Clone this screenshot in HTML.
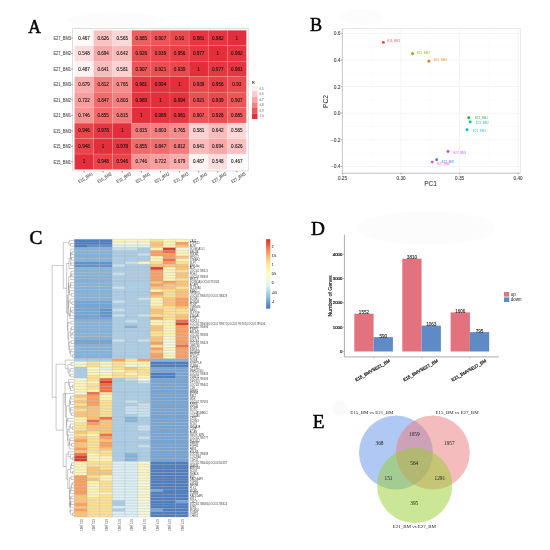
<!DOCTYPE html>
<html><head><meta charset="utf-8"><title>Figure</title>
<style>html,body{margin:0;padding:0;background:#fff;width:550px;height:550px;overflow:hidden}svg{display:block}</style>
</head><body>
<svg width="550" height="550" viewBox="0 0 550 550">
<rect width="550" height="550" fill="#fff"/>
<ellipse cx="115" cy="20" rx="49" ry="7.5" fill="#fcfcfc"/>
<rect x="72.7" y="28.6" width="175.5" height="142.4" fill="#fff" stroke="#c8c8c8" stroke-width="0.6"/>
<rect x="74.50" y="30.30" width="19.10" height="15.47" fill="#fef9f9" stroke="#ffffff" stroke-opacity="0.22" stroke-width="0.5"/>
<rect x="93.60" y="30.30" width="19.10" height="15.47" fill="#fac1c1" stroke="#ffffff" stroke-opacity="0.22" stroke-width="0.5"/>
<rect x="112.70" y="30.30" width="19.10" height="15.47" fill="#fcd7d7" stroke="#ffffff" stroke-opacity="0.22" stroke-width="0.5"/>
<rect x="131.80" y="30.30" width="19.10" height="15.47" fill="#ef5e5e" stroke="#ffffff" stroke-opacity="0.22" stroke-width="0.5"/>
<rect x="150.90" y="30.30" width="19.10" height="15.47" fill="#ed5556" stroke="#ffffff" stroke-opacity="0.22" stroke-width="0.5"/>
<rect x="170.00" y="30.30" width="19.10" height="15.47" fill="#eb4b50" stroke="#ffffff" stroke-opacity="0.22" stroke-width="0.5"/>
<rect x="189.10" y="30.30" width="19.10" height="15.47" fill="#e73641" stroke="#ffffff" stroke-opacity="0.22" stroke-width="0.5"/>
<rect x="208.20" y="30.30" width="19.10" height="15.47" fill="#e73641" stroke="#ffffff" stroke-opacity="0.22" stroke-width="0.5"/>
<rect x="227.30" y="30.30" width="19.10" height="15.47" fill="#e52e3c" stroke="#ffffff" stroke-opacity="0.22" stroke-width="0.5"/>
<rect x="74.50" y="45.77" width="19.10" height="15.47" fill="#fcdddd" stroke="#ffffff" stroke-opacity="0.22" stroke-width="0.5"/>
<rect x="93.60" y="45.77" width="19.10" height="15.47" fill="#f8a8a8" stroke="#ffffff" stroke-opacity="0.22" stroke-width="0.5"/>
<rect x="112.70" y="45.77" width="19.10" height="15.47" fill="#fabbbb" stroke="#ffffff" stroke-opacity="0.22" stroke-width="0.5"/>
<rect x="131.80" y="45.77" width="19.10" height="15.47" fill="#ec4d51" stroke="#ffffff" stroke-opacity="0.22" stroke-width="0.5"/>
<rect x="150.90" y="45.77" width="19.10" height="15.47" fill="#ea484d" stroke="#ffffff" stroke-opacity="0.22" stroke-width="0.5"/>
<rect x="170.00" y="45.77" width="19.10" height="15.47" fill="#e94048" stroke="#ffffff" stroke-opacity="0.22" stroke-width="0.5"/>
<rect x="189.10" y="45.77" width="19.10" height="15.47" fill="#e73842" stroke="#ffffff" stroke-opacity="0.22" stroke-width="0.5"/>
<rect x="208.20" y="45.77" width="19.10" height="15.47" fill="#e52e3c" stroke="#ffffff" stroke-opacity="0.22" stroke-width="0.5"/>
<rect x="227.30" y="45.77" width="19.10" height="15.47" fill="#e73641" stroke="#ffffff" stroke-opacity="0.22" stroke-width="0.5"/>
<rect x="74.50" y="61.24" width="19.10" height="15.47" fill="#fef2f2" stroke="#ffffff" stroke-opacity="0.22" stroke-width="0.5"/>
<rect x="93.60" y="61.24" width="19.10" height="15.47" fill="#fabbbb" stroke="#ffffff" stroke-opacity="0.22" stroke-width="0.5"/>
<rect x="112.70" y="61.24" width="19.10" height="15.47" fill="#fbd1d1" stroke="#ffffff" stroke-opacity="0.22" stroke-width="0.5"/>
<rect x="131.80" y="61.24" width="19.10" height="15.47" fill="#ed5556" stroke="#ffffff" stroke-opacity="0.22" stroke-width="0.5"/>
<rect x="150.90" y="61.24" width="19.10" height="15.47" fill="#ec4f52" stroke="#ffffff" stroke-opacity="0.22" stroke-width="0.5"/>
<rect x="170.00" y="61.24" width="19.10" height="15.47" fill="#ea484d" stroke="#ffffff" stroke-opacity="0.22" stroke-width="0.5"/>
<rect x="189.10" y="61.24" width="19.10" height="15.47" fill="#e52e3c" stroke="#ffffff" stroke-opacity="0.22" stroke-width="0.5"/>
<rect x="208.20" y="61.24" width="19.10" height="15.47" fill="#e73842" stroke="#ffffff" stroke-opacity="0.22" stroke-width="0.5"/>
<rect x="227.30" y="61.24" width="19.10" height="15.47" fill="#e73641" stroke="#ffffff" stroke-opacity="0.22" stroke-width="0.5"/>
<rect x="74.50" y="76.71" width="19.10" height="15.47" fill="#f9aeae" stroke="#ffffff" stroke-opacity="0.22" stroke-width="0.5"/>
<rect x="93.60" y="76.71" width="19.10" height="15.47" fill="#f37b7b" stroke="#ffffff" stroke-opacity="0.22" stroke-width="0.5"/>
<rect x="112.70" y="76.71" width="19.10" height="15.47" fill="#f58d8d" stroke="#ffffff" stroke-opacity="0.22" stroke-width="0.5"/>
<rect x="131.80" y="76.71" width="19.10" height="15.47" fill="#e73641" stroke="#ffffff" stroke-opacity="0.22" stroke-width="0.5"/>
<rect x="150.90" y="76.71" width="19.10" height="15.47" fill="#e6313e" stroke="#ffffff" stroke-opacity="0.22" stroke-width="0.5"/>
<rect x="170.00" y="76.71" width="19.10" height="15.47" fill="#e52e3c" stroke="#ffffff" stroke-opacity="0.22" stroke-width="0.5"/>
<rect x="189.10" y="76.71" width="19.10" height="15.47" fill="#ea484d" stroke="#ffffff" stroke-opacity="0.22" stroke-width="0.5"/>
<rect x="208.20" y="76.71" width="19.10" height="15.47" fill="#e94048" stroke="#ffffff" stroke-opacity="0.22" stroke-width="0.5"/>
<rect x="227.30" y="76.71" width="19.10" height="15.47" fill="#eb4b50" stroke="#ffffff" stroke-opacity="0.22" stroke-width="0.5"/>
<rect x="74.50" y="92.18" width="19.10" height="15.47" fill="#f79e9e" stroke="#ffffff" stroke-opacity="0.22" stroke-width="0.5"/>
<rect x="93.60" y="92.18" width="19.10" height="15.47" fill="#f16d6d" stroke="#ffffff" stroke-opacity="0.22" stroke-width="0.5"/>
<rect x="112.70" y="92.18" width="19.10" height="15.47" fill="#f47f7f" stroke="#ffffff" stroke-opacity="0.22" stroke-width="0.5"/>
<rect x="131.80" y="92.18" width="19.10" height="15.47" fill="#e6333f" stroke="#ffffff" stroke-opacity="0.22" stroke-width="0.5"/>
<rect x="150.90" y="92.18" width="19.10" height="15.47" fill="#e52e3c" stroke="#ffffff" stroke-opacity="0.22" stroke-width="0.5"/>
<rect x="170.00" y="92.18" width="19.10" height="15.47" fill="#e6313e" stroke="#ffffff" stroke-opacity="0.22" stroke-width="0.5"/>
<rect x="189.10" y="92.18" width="19.10" height="15.47" fill="#ec4f52" stroke="#ffffff" stroke-opacity="0.22" stroke-width="0.5"/>
<rect x="208.20" y="92.18" width="19.10" height="15.47" fill="#ea484d" stroke="#ffffff" stroke-opacity="0.22" stroke-width="0.5"/>
<rect x="227.30" y="92.18" width="19.10" height="15.47" fill="#ed5556" stroke="#ffffff" stroke-opacity="0.22" stroke-width="0.5"/>
<rect x="74.50" y="107.65" width="19.10" height="15.47" fill="#f69595" stroke="#ffffff" stroke-opacity="0.22" stroke-width="0.5"/>
<rect x="93.60" y="107.65" width="19.10" height="15.47" fill="#f16a6a" stroke="#ffffff" stroke-opacity="0.22" stroke-width="0.5"/>
<rect x="112.70" y="107.65" width="19.10" height="15.47" fill="#f37a7a" stroke="#ffffff" stroke-opacity="0.22" stroke-width="0.5"/>
<rect x="131.80" y="107.65" width="19.10" height="15.47" fill="#e52e3c" stroke="#ffffff" stroke-opacity="0.22" stroke-width="0.5"/>
<rect x="150.90" y="107.65" width="19.10" height="15.47" fill="#e6333f" stroke="#ffffff" stroke-opacity="0.22" stroke-width="0.5"/>
<rect x="170.00" y="107.65" width="19.10" height="15.47" fill="#e73641" stroke="#ffffff" stroke-opacity="0.22" stroke-width="0.5"/>
<rect x="189.10" y="107.65" width="19.10" height="15.47" fill="#ed5556" stroke="#ffffff" stroke-opacity="0.22" stroke-width="0.5"/>
<rect x="208.20" y="107.65" width="19.10" height="15.47" fill="#ec4d51" stroke="#ffffff" stroke-opacity="0.22" stroke-width="0.5"/>
<rect x="227.30" y="107.65" width="19.10" height="15.47" fill="#ef5e5e" stroke="#ffffff" stroke-opacity="0.22" stroke-width="0.5"/>
<rect x="74.50" y="123.12" width="19.10" height="15.47" fill="#ea454b" stroke="#ffffff" stroke-opacity="0.22" stroke-width="0.5"/>
<rect x="93.60" y="123.12" width="19.10" height="15.47" fill="#e73742" stroke="#ffffff" stroke-opacity="0.22" stroke-width="0.5"/>
<rect x="112.70" y="123.12" width="19.10" height="15.47" fill="#e52e3c" stroke="#ffffff" stroke-opacity="0.22" stroke-width="0.5"/>
<rect x="131.80" y="123.12" width="19.10" height="15.47" fill="#f37a7a" stroke="#ffffff" stroke-opacity="0.22" stroke-width="0.5"/>
<rect x="150.90" y="123.12" width="19.10" height="15.47" fill="#f47f7f" stroke="#ffffff" stroke-opacity="0.22" stroke-width="0.5"/>
<rect x="170.00" y="123.12" width="19.10" height="15.47" fill="#f58d8d" stroke="#ffffff" stroke-opacity="0.22" stroke-width="0.5"/>
<rect x="189.10" y="123.12" width="19.10" height="15.47" fill="#fbd1d1" stroke="#ffffff" stroke-opacity="0.22" stroke-width="0.5"/>
<rect x="208.20" y="123.12" width="19.10" height="15.47" fill="#fabbbb" stroke="#ffffff" stroke-opacity="0.22" stroke-width="0.5"/>
<rect x="227.30" y="123.12" width="19.10" height="15.47" fill="#fcd7d7" stroke="#ffffff" stroke-opacity="0.22" stroke-width="0.5"/>
<rect x="74.50" y="138.59" width="19.10" height="15.47" fill="#ea444b" stroke="#ffffff" stroke-opacity="0.22" stroke-width="0.5"/>
<rect x="93.60" y="138.59" width="19.10" height="15.47" fill="#e52e3c" stroke="#ffffff" stroke-opacity="0.22" stroke-width="0.5"/>
<rect x="112.70" y="138.59" width="19.10" height="15.47" fill="#e73742" stroke="#ffffff" stroke-opacity="0.22" stroke-width="0.5"/>
<rect x="131.80" y="138.59" width="19.10" height="15.47" fill="#f16a6a" stroke="#ffffff" stroke-opacity="0.22" stroke-width="0.5"/>
<rect x="150.90" y="138.59" width="19.10" height="15.47" fill="#f16d6d" stroke="#ffffff" stroke-opacity="0.22" stroke-width="0.5"/>
<rect x="170.00" y="138.59" width="19.10" height="15.47" fill="#f37b7b" stroke="#ffffff" stroke-opacity="0.22" stroke-width="0.5"/>
<rect x="189.10" y="138.59" width="19.10" height="15.47" fill="#fabbbb" stroke="#ffffff" stroke-opacity="0.22" stroke-width="0.5"/>
<rect x="208.20" y="138.59" width="19.10" height="15.47" fill="#f8a8a8" stroke="#ffffff" stroke-opacity="0.22" stroke-width="0.5"/>
<rect x="227.30" y="138.59" width="19.10" height="15.47" fill="#fac1c1" stroke="#ffffff" stroke-opacity="0.22" stroke-width="0.5"/>
<rect x="74.50" y="154.06" width="19.10" height="15.47" fill="#e52e3c" stroke="#ffffff" stroke-opacity="0.22" stroke-width="0.5"/>
<rect x="93.60" y="154.06" width="19.10" height="15.47" fill="#ea444b" stroke="#ffffff" stroke-opacity="0.22" stroke-width="0.5"/>
<rect x="112.70" y="154.06" width="19.10" height="15.47" fill="#ea454b" stroke="#ffffff" stroke-opacity="0.22" stroke-width="0.5"/>
<rect x="131.80" y="154.06" width="19.10" height="15.47" fill="#f69595" stroke="#ffffff" stroke-opacity="0.22" stroke-width="0.5"/>
<rect x="150.90" y="154.06" width="19.10" height="15.47" fill="#f79e9e" stroke="#ffffff" stroke-opacity="0.22" stroke-width="0.5"/>
<rect x="170.00" y="154.06" width="19.10" height="15.47" fill="#f9aeae" stroke="#ffffff" stroke-opacity="0.22" stroke-width="0.5"/>
<rect x="189.10" y="154.06" width="19.10" height="15.47" fill="#fef2f2" stroke="#ffffff" stroke-opacity="0.22" stroke-width="0.5"/>
<rect x="208.20" y="154.06" width="19.10" height="15.47" fill="#fcdddd" stroke="#ffffff" stroke-opacity="0.22" stroke-width="0.5"/>
<rect x="227.30" y="154.06" width="19.10" height="15.47" fill="#fef9f9" stroke="#ffffff" stroke-opacity="0.22" stroke-width="0.5"/>
<g font-family="Liberation Sans, Arial, sans-serif" font-size="4.6" fill="#111" stroke="#111" stroke-width="0.08" text-anchor="middle">
<text x="84.05" y="39.64">0.467</text>
<text x="103.15" y="39.64">0.626</text>
<text x="122.25" y="39.64">0.565</text>
<text x="141.35" y="39.64">0.885</text>
<text x="160.45" y="39.64">0.907</text>
<text x="179.55" y="39.64">0.93</text>
<text x="198.65" y="39.64">0.981</text>
<text x="217.75" y="39.64">0.982</text>
<text x="236.85" y="39.64">1</text>
<text x="84.05" y="55.11">0.548</text>
<text x="103.15" y="55.11">0.694</text>
<text x="122.25" y="55.11">0.642</text>
<text x="141.35" y="55.11">0.926</text>
<text x="160.45" y="55.11">0.939</text>
<text x="179.55" y="55.11">0.956</text>
<text x="198.65" y="55.11">0.977</text>
<text x="217.75" y="55.11">1</text>
<text x="236.85" y="55.11">0.982</text>
<text x="84.05" y="70.58">0.487</text>
<text x="103.15" y="70.58">0.641</text>
<text x="122.25" y="70.58">0.581</text>
<text x="141.35" y="70.58">0.907</text>
<text x="160.45" y="70.58">0.921</text>
<text x="179.55" y="70.58">0.939</text>
<text x="198.65" y="70.58">1</text>
<text x="217.75" y="70.58">0.977</text>
<text x="236.85" y="70.58">0.981</text>
<text x="84.05" y="86.05">0.679</text>
<text x="103.15" y="86.05">0.812</text>
<text x="122.25" y="86.05">0.765</text>
<text x="141.35" y="86.05">0.981</text>
<text x="160.45" y="86.05">0.994</text>
<text x="179.55" y="86.05">1</text>
<text x="198.65" y="86.05">0.939</text>
<text x="217.75" y="86.05">0.956</text>
<text x="236.85" y="86.05">0.93</text>
<text x="84.05" y="101.52">0.722</text>
<text x="103.15" y="101.52">0.847</text>
<text x="122.25" y="101.52">0.803</text>
<text x="141.35" y="101.52">0.989</text>
<text x="160.45" y="101.52">1</text>
<text x="179.55" y="101.52">0.994</text>
<text x="198.65" y="101.52">0.921</text>
<text x="217.75" y="101.52">0.939</text>
<text x="236.85" y="101.52">0.907</text>
<text x="84.05" y="116.98">0.746</text>
<text x="103.15" y="116.98">0.855</text>
<text x="122.25" y="116.98">0.815</text>
<text x="141.35" y="116.98">1</text>
<text x="160.45" y="116.98">0.989</text>
<text x="179.55" y="116.98">0.981</text>
<text x="198.65" y="116.98">0.907</text>
<text x="217.75" y="116.98">0.926</text>
<text x="236.85" y="116.98">0.885</text>
<text x="84.05" y="132.46">0.946</text>
<text x="103.15" y="132.46">0.978</text>
<text x="122.25" y="132.46">1</text>
<text x="141.35" y="132.46">0.815</text>
<text x="160.45" y="132.46">0.803</text>
<text x="179.55" y="132.46">0.765</text>
<text x="198.65" y="132.46">0.581</text>
<text x="217.75" y="132.46">0.642</text>
<text x="236.85" y="132.46">0.565</text>
<text x="84.05" y="147.93">0.948</text>
<text x="103.15" y="147.93">1</text>
<text x="122.25" y="147.93">0.978</text>
<text x="141.35" y="147.93">0.855</text>
<text x="160.45" y="147.93">0.847</text>
<text x="179.55" y="147.93">0.812</text>
<text x="198.65" y="147.93">0.641</text>
<text x="217.75" y="147.93">0.694</text>
<text x="236.85" y="147.93">0.626</text>
<text x="84.05" y="163.40">1</text>
<text x="103.15" y="163.40">0.948</text>
<text x="122.25" y="163.40">0.946</text>
<text x="141.35" y="163.40">0.746</text>
<text x="160.45" y="163.40">0.722</text>
<text x="179.55" y="163.40">0.679</text>
<text x="198.65" y="163.40">0.487</text>
<text x="217.75" y="163.40">0.548</text>
<text x="236.85" y="163.40">0.467</text>
</g>
<g font-family="Liberation Sans, Arial, sans-serif" font-size="4.7" fill="#4a4a4a" stroke="#4a4a4a" stroke-width="0.08" text-anchor="end">
<text x="0" y="0" transform="translate(71.0 39.74) scale(0.85 1)">E27_BM3</text>
<text x="0" y="0" transform="translate(71.0 55.21) scale(0.85 1)">E27_BM2</text>
<text x="0" y="0" transform="translate(71.0 70.68) scale(0.85 1)">E27_BM1</text>
<text x="0" y="0" transform="translate(71.0 86.15) scale(0.85 1)">E21_BM3</text>
<text x="0" y="0" transform="translate(71.0 101.62) scale(0.85 1)">E21_BM2</text>
<text x="0" y="0" transform="translate(71.0 117.09) scale(0.85 1)">E21_BM1</text>
<text x="0" y="0" transform="translate(71.0 132.56) scale(0.85 1)">E15_BM3</text>
<text x="0" y="0" transform="translate(71.0 148.03) scale(0.85 1)">E15_BM2</text>
<text x="0" y="0" transform="translate(71.0 163.50) scale(0.85 1)">E15_BM1</text>
</g>
<line x1="71.2" x2="72.7" y1="38.04" y2="38.04" stroke="#333" stroke-width="0.5"/>
<line x1="71.2" x2="72.7" y1="53.51" y2="53.51" stroke="#333" stroke-width="0.5"/>
<line x1="71.2" x2="72.7" y1="68.98" y2="68.98" stroke="#333" stroke-width="0.5"/>
<line x1="71.2" x2="72.7" y1="84.45" y2="84.45" stroke="#333" stroke-width="0.5"/>
<line x1="71.2" x2="72.7" y1="99.92" y2="99.92" stroke="#333" stroke-width="0.5"/>
<line x1="71.2" x2="72.7" y1="115.39" y2="115.39" stroke="#333" stroke-width="0.5"/>
<line x1="71.2" x2="72.7" y1="130.86" y2="130.86" stroke="#333" stroke-width="0.5"/>
<line x1="71.2" x2="72.7" y1="146.33" y2="146.33" stroke="#333" stroke-width="0.5"/>
<line x1="71.2" x2="72.7" y1="161.80" y2="161.80" stroke="#333" stroke-width="0.5"/>
<g font-family="Liberation Sans, Arial, sans-serif" font-size="4.4" fill="#4a4a4a" stroke="#4a4a4a" stroke-width="0.08" text-anchor="middle">
<line x1="84.05" x2="84.05" y1="171" y2="172.5" stroke="#333" stroke-width="0.5"/>
<text x="0" y="1.6" transform="translate(85.45 177.60) rotate(-32) scale(0.85 1)">E15_BM1</text>
<line x1="103.15" x2="103.15" y1="171" y2="172.5" stroke="#333" stroke-width="0.5"/>
<text x="0" y="1.6" transform="translate(104.55 177.60) rotate(-32) scale(0.85 1)">E15_BM2</text>
<line x1="122.25" x2="122.25" y1="171" y2="172.5" stroke="#333" stroke-width="0.5"/>
<text x="0" y="1.6" transform="translate(123.65 177.60) rotate(-32) scale(0.85 1)">E15_BM3</text>
<line x1="141.35" x2="141.35" y1="171" y2="172.5" stroke="#333" stroke-width="0.5"/>
<text x="0" y="1.6" transform="translate(142.75 177.60) rotate(-32) scale(0.85 1)">E21_BM1</text>
<line x1="160.45" x2="160.45" y1="171" y2="172.5" stroke="#333" stroke-width="0.5"/>
<text x="0" y="1.6" transform="translate(161.85 177.60) rotate(-32) scale(0.85 1)">E21_BM2</text>
<line x1="179.55" x2="179.55" y1="171" y2="172.5" stroke="#333" stroke-width="0.5"/>
<text x="0" y="1.6" transform="translate(180.95 177.60) rotate(-32) scale(0.85 1)">E21_BM3</text>
<line x1="198.65" x2="198.65" y1="171" y2="172.5" stroke="#333" stroke-width="0.5"/>
<text x="0" y="1.6" transform="translate(200.05 177.60) rotate(-32) scale(0.85 1)">E27_BM1</text>
<line x1="217.75" x2="217.75" y1="171" y2="172.5" stroke="#333" stroke-width="0.5"/>
<text x="0" y="1.6" transform="translate(219.15 177.60) rotate(-32) scale(0.85 1)">E27_BM2</text>
<line x1="236.85" x2="236.85" y1="171" y2="172.5" stroke="#333" stroke-width="0.5"/>
<text x="0" y="1.6" transform="translate(238.25 177.60) rotate(-32) scale(0.85 1)">E27_BM3</text>
</g>
<text x="252" y="83.5" font-family="Liberation Sans, Arial, sans-serif" font-size="3.8" fill="#222" stroke="#222" stroke-width="0.1">R</text>
<rect x="252" y="85.80" width="5.5" height="5.53" fill="#fdeeee"/>
<text x="259.5" y="89.70" font-family="Liberation Sans, Arial, sans-serif" font-size="2.9" fill="#555">0.5</text>
<rect x="252" y="91.33" width="5.5" height="5.53" fill="#fbcaca"/>
<text x="259.5" y="95.23" font-family="Liberation Sans, Arial, sans-serif" font-size="2.9" fill="#555">0.6</text>
<rect x="252" y="96.86" width="5.5" height="5.53" fill="#f8a6a6"/>
<text x="259.5" y="100.76" font-family="Liberation Sans, Arial, sans-serif" font-size="2.9" fill="#555">0.7</text>
<rect x="252" y="102.39" width="5.5" height="5.53" fill="#f48080"/>
<text x="259.5" y="106.29" font-family="Liberation Sans, Arial, sans-serif" font-size="2.9" fill="#555">0.8</text>
<rect x="252" y="107.92" width="5.5" height="5.53" fill="#ee5858"/>
<text x="259.5" y="111.82" font-family="Liberation Sans, Arial, sans-serif" font-size="2.9" fill="#555">0.9</text>
<rect x="252" y="113.45" width="5.5" height="5.53" fill="#e52e3c"/>
<text x="259.5" y="117.35" font-family="Liberation Sans, Arial, sans-serif" font-size="2.9" fill="#555">1.0</text>
<text x="0" y="0" transform="translate(28.2 32.6) scale(0.91 1)" font-family="Liberation Serif, Times New Roman, serif" font-size="19.3" fill="#000" stroke="#000" stroke-width="0.5">A</text>
<ellipse cx="362" cy="17" rx="21" ry="8" fill="#fcfcfc"/>
<rect x="342.3" y="28.7" width="178.0" height="144.5" fill="#fff"/>
<line x1="371.77" x2="371.77" y1="28.7" y2="173.2" stroke="#f4f4f4" stroke-width="0.4"/>
<line x1="430.30" x2="430.30" y1="28.7" y2="173.2" stroke="#f4f4f4" stroke-width="0.4"/>
<line x1="488.83" x2="488.83" y1="28.7" y2="173.2" stroke="#f4f4f4" stroke-width="0.4"/>
<line x1="342.3" x2="520.3" y1="153.13" y2="153.13" stroke="#f4f4f4" stroke-width="0.4"/>
<line x1="342.3" x2="520.3" y1="126.51" y2="126.51" stroke="#f4f4f4" stroke-width="0.4"/>
<line x1="342.3" x2="520.3" y1="99.89" y2="99.89" stroke="#f4f4f4" stroke-width="0.4"/>
<line x1="342.3" x2="520.3" y1="73.27" y2="73.27" stroke="#f4f4f4" stroke-width="0.4"/>
<line x1="342.3" x2="520.3" y1="46.65" y2="46.65" stroke="#f4f4f4" stroke-width="0.4"/>
<line x1="401.03" x2="401.03" y1="28.7" y2="173.2" stroke="#ebebeb" stroke-width="0.55"/>
<line x1="459.57" x2="459.57" y1="28.7" y2="173.2" stroke="#ebebeb" stroke-width="0.55"/>
<line x1="518.10" x2="518.10" y1="28.7" y2="173.2" stroke="#ebebeb" stroke-width="0.55"/>
<line x1="342.3" x2="520.3" y1="166.44" y2="166.44" stroke="#ebebeb" stroke-width="0.55"/>
<line x1="342.3" x2="520.3" y1="139.82" y2="139.82" stroke="#ebebeb" stroke-width="0.55"/>
<line x1="342.3" x2="520.3" y1="113.20" y2="113.20" stroke="#ebebeb" stroke-width="0.55"/>
<line x1="342.3" x2="520.3" y1="86.58" y2="86.58" stroke="#ebebeb" stroke-width="0.55"/>
<line x1="342.3" x2="520.3" y1="59.96" y2="59.96" stroke="#ebebeb" stroke-width="0.55"/>
<line x1="342.3" x2="520.3" y1="33.34" y2="33.34" stroke="#ebebeb" stroke-width="0.55"/>
<rect x="342.3" y="28.7" width="178.0" height="144.5" fill="none" stroke="#dadada" stroke-width="0.6"/>
<line x1="342.3" x2="342.3" y1="28.7" y2="173.2" stroke="#b0b0b0" stroke-width="0.6"/>
<line x1="342.3" x2="520.3" y1="173.2" y2="173.2" stroke="#b0b0b0" stroke-width="0.6"/>
<g font-family="Liberation Sans, Arial, sans-serif" font-size="4.4" fill="#444" stroke="#444" stroke-width="0.1">
<line x1="342.50" x2="342.50" y1="173.2" y2="174.5" stroke="#444" stroke-width="0.4"/>
<text x="342.50" y="179.7" text-anchor="middle" font-size="4.6">0.25</text>
<line x1="401.03" x2="401.03" y1="173.2" y2="174.5" stroke="#444" stroke-width="0.4"/>
<text x="401.03" y="179.7" text-anchor="middle" font-size="4.6">0.30</text>
<line x1="459.57" x2="459.57" y1="173.2" y2="174.5" stroke="#444" stroke-width="0.4"/>
<text x="459.57" y="179.7" text-anchor="middle" font-size="4.6">0.35</text>
<line x1="518.10" x2="518.10" y1="173.2" y2="174.5" stroke="#444" stroke-width="0.4"/>
<text x="518.10" y="179.7" text-anchor="middle" font-size="4.6">0.40</text>
<line x1="341.0" x2="342.3" y1="166.44" y2="166.44" stroke="#444" stroke-width="0.4"/>
<text x="340.5" y="168.44" text-anchor="end" font-size="4.9">−0.4</text>
<line x1="341.0" x2="342.3" y1="139.82" y2="139.82" stroke="#444" stroke-width="0.4"/>
<text x="340.5" y="141.82" text-anchor="end" font-size="4.9">−0.2</text>
<line x1="341.0" x2="342.3" y1="113.20" y2="113.20" stroke="#444" stroke-width="0.4"/>
<text x="340.5" y="115.20" text-anchor="end" font-size="4.9">0.0</text>
<line x1="341.0" x2="342.3" y1="86.58" y2="86.58" stroke="#444" stroke-width="0.4"/>
<text x="340.5" y="88.58" text-anchor="end" font-size="4.9">0.2</text>
<line x1="341.0" x2="342.3" y1="59.96" y2="59.96" stroke="#444" stroke-width="0.4"/>
<text x="340.5" y="61.96" text-anchor="end" font-size="4.9">0.4</text>
<line x1="341.0" x2="342.3" y1="33.34" y2="33.34" stroke="#444" stroke-width="0.4"/>
<text x="340.5" y="35.34" text-anchor="end" font-size="4.9">0.6</text>
</g>
<text x="430.6" y="185.8" font-family="Liberation Sans, Arial, sans-serif" font-size="6.6" fill="#1a1a1a" text-anchor="middle">PC1</text>
<text x="0" y="0" font-family="Liberation Sans, Arial, sans-serif" font-size="6.6" fill="#1a1a1a" text-anchor="middle" transform="translate(328 101.5) rotate(-90)">PC2</text>
<circle cx="383.4" cy="42.4" r="1.45" fill="#f0453c"/>
<circle cx="412.6" cy="53.7" r="1.45" fill="#8fa812"/>
<circle cx="428.9" cy="61.3" r="1.45" fill="#d08a10"/>
<circle cx="468.8" cy="117.8" r="1.45" fill="#13b03a"/>
<circle cx="470.2" cy="121.9" r="1.45" fill="#14b894"/>
<circle cx="467.1" cy="129.8" r="1.45" fill="#14b2e0"/>
<circle cx="448.0" cy="151.5" r="1.45" fill="#c34cf0"/>
<circle cx="436.7" cy="159.8" r="1.45" fill="#3f7af5"/>
<circle cx="432.2" cy="162.1" r="1.45" fill="#f04cb4"/>
<g font-family="Liberation Sans, Arial, sans-serif" font-size="2.95" stroke-width="0.1">
<text x="387.20" y="42.00" fill="#f0453c" fill-opacity="0.85">E15_BM1</text>
<text x="417.00" y="53.50" fill="#8fa812" fill-opacity="0.85">E15_BM2</text>
<text x="434.00" y="61.30" fill="#d08a10" fill-opacity="0.85">E15_BM3</text>
<text x="474.90" y="119.40" fill="#13b03a" fill-opacity="0.85">E21_BM1</text>
<text x="476.00" y="123.50" fill="#14b894" fill-opacity="0.85">E21_BM2</text>
<text x="473.00" y="131.80" fill="#14b2e0" fill-opacity="0.85">E21_BM3</text>
<text x="453.30" y="154.40" fill="#c34cf0" fill-opacity="0.85">E27_BM3</text>
<text x="441.80" y="162.50" fill="#3f7af5" fill-opacity="0.85">E27_BM1</text>
<text x="437.20" y="164.70" fill="#f04cb4" fill-opacity="0.85">E27_BM2</text>
</g>
<text x="0" y="0" transform="translate(309.9 31.4) scale(0.94 1)" font-family="Liberation Serif, Times New Roman, serif" font-size="19.3" fill="#000" stroke="#000" stroke-width="0.5">B</text>
<rect x="74.30" y="239.30" width="12.68" height="2.78" fill="#4e7dc0"/>
<rect x="86.98" y="239.30" width="12.68" height="2.78" fill="#4e7dc0"/>
<rect x="99.66" y="239.30" width="12.68" height="2.78" fill="#4e7dc0"/>
<rect x="112.33" y="239.30" width="12.68" height="2.78" fill="#fff5b6"/>
<rect x="125.01" y="239.30" width="12.68" height="2.78" fill="#fff5b6"/>
<rect x="137.69" y="239.30" width="12.68" height="2.78" fill="#fff5b6"/>
<rect x="150.37" y="239.30" width="12.68" height="2.78" fill="#fee293"/>
<rect x="163.04" y="239.30" width="12.68" height="2.78" fill="#fff5b6"/>
<rect x="175.72" y="239.30" width="12.68" height="2.78" fill="#fff5b6"/>
<rect x="74.30" y="242.08" width="12.68" height="2.78" fill="#4e7dc0"/>
<rect x="86.98" y="242.08" width="12.68" height="2.78" fill="#4e7dc0"/>
<rect x="99.66" y="242.08" width="12.68" height="2.78" fill="#4e7dc0"/>
<rect x="112.33" y="242.08" width="12.68" height="2.78" fill="#f4f9dc"/>
<rect x="125.01" y="242.08" width="12.68" height="2.78" fill="#f4f9dc"/>
<rect x="137.69" y="242.08" width="12.68" height="2.78" fill="#f4f9dc"/>
<rect x="150.37" y="242.08" width="12.68" height="2.78" fill="#fdc477"/>
<rect x="163.04" y="242.08" width="12.68" height="2.78" fill="#fff5b6"/>
<rect x="175.72" y="242.08" width="12.68" height="2.78" fill="#fb9f61"/>
<rect x="74.30" y="244.85" width="12.68" height="2.78" fill="#4e7dc0"/>
<rect x="86.98" y="244.85" width="12.68" height="2.78" fill="#6593cd"/>
<rect x="99.66" y="244.85" width="12.68" height="2.78" fill="#6593cd"/>
<rect x="112.33" y="244.85" width="12.68" height="2.78" fill="#dbeff5"/>
<rect x="125.01" y="244.85" width="12.68" height="2.78" fill="#dbeff5"/>
<rect x="137.69" y="244.85" width="12.68" height="2.78" fill="#dbeff5"/>
<rect x="150.37" y="244.85" width="12.68" height="2.78" fill="#fdc477"/>
<rect x="163.04" y="244.85" width="12.68" height="2.78" fill="#fff5b6"/>
<rect x="175.72" y="244.85" width="12.68" height="2.78" fill="#fdc477"/>
<rect x="74.30" y="247.63" width="12.68" height="2.78" fill="#85b3da"/>
<rect x="86.98" y="247.63" width="12.68" height="2.78" fill="#85b3da"/>
<rect x="99.66" y="247.63" width="12.68" height="2.78" fill="#85b3da"/>
<rect x="112.33" y="247.63" width="12.68" height="2.78" fill="#c6e1ef"/>
<rect x="125.01" y="247.63" width="12.68" height="2.78" fill="#c6e1ef"/>
<rect x="137.69" y="247.63" width="12.68" height="2.78" fill="#abcee6"/>
<rect x="150.37" y="247.63" width="12.68" height="2.78" fill="#fff5b6"/>
<rect x="163.04" y="247.63" width="12.68" height="2.78" fill="#dc3a2a"/>
<rect x="175.72" y="247.63" width="12.68" height="2.78" fill="#f4f9dc"/>
<rect x="74.30" y="250.41" width="12.68" height="2.78" fill="#85b3da"/>
<rect x="86.98" y="250.41" width="12.68" height="2.78" fill="#85b3da"/>
<rect x="99.66" y="250.41" width="12.68" height="2.78" fill="#85b3da"/>
<rect x="112.33" y="250.41" width="12.68" height="2.78" fill="#abcee6"/>
<rect x="125.01" y="250.41" width="12.68" height="2.78" fill="#abcee6"/>
<rect x="137.69" y="250.41" width="12.68" height="2.78" fill="#abcee6"/>
<rect x="150.37" y="250.41" width="12.68" height="2.78" fill="#fb9f61"/>
<rect x="163.04" y="250.41" width="12.68" height="2.78" fill="#f06d47"/>
<rect x="175.72" y="250.41" width="12.68" height="2.78" fill="#fff5b6"/>
<rect x="74.30" y="253.19" width="12.68" height="2.78" fill="#85b3da"/>
<rect x="86.98" y="253.19" width="12.68" height="2.78" fill="#85b3da"/>
<rect x="99.66" y="253.19" width="12.68" height="2.78" fill="#85b3da"/>
<rect x="112.33" y="253.19" width="12.68" height="2.78" fill="#abcee6"/>
<rect x="125.01" y="253.19" width="12.68" height="2.78" fill="#abcee6"/>
<rect x="137.69" y="253.19" width="12.68" height="2.78" fill="#c6e1ef"/>
<rect x="150.37" y="253.19" width="12.68" height="2.78" fill="#fb9f61"/>
<rect x="163.04" y="253.19" width="12.68" height="2.78" fill="#fb9f61"/>
<rect x="175.72" y="253.19" width="12.68" height="2.78" fill="#fff5b6"/>
<rect x="74.30" y="255.96" width="12.68" height="2.78" fill="#85b3da"/>
<rect x="86.98" y="255.96" width="12.68" height="2.78" fill="#85b3da"/>
<rect x="99.66" y="255.96" width="12.68" height="2.78" fill="#85b3da"/>
<rect x="112.33" y="255.96" width="12.68" height="2.78" fill="#abcee6"/>
<rect x="125.01" y="255.96" width="12.68" height="2.78" fill="#abcee6"/>
<rect x="137.69" y="255.96" width="12.68" height="2.78" fill="#abcee6"/>
<rect x="150.37" y="255.96" width="12.68" height="2.78" fill="#fff5b6"/>
<rect x="163.04" y="255.96" width="12.68" height="2.78" fill="#fb9f61"/>
<rect x="175.72" y="255.96" width="12.68" height="2.78" fill="#fdc477"/>
<rect x="74.30" y="258.74" width="12.68" height="2.78" fill="#85b3da"/>
<rect x="86.98" y="258.74" width="12.68" height="2.78" fill="#85b3da"/>
<rect x="99.66" y="258.74" width="12.68" height="2.78" fill="#85b3da"/>
<rect x="112.33" y="258.74" width="12.68" height="2.78" fill="#abcee6"/>
<rect x="125.01" y="258.74" width="12.68" height="2.78" fill="#abcee6"/>
<rect x="137.69" y="258.74" width="12.68" height="2.78" fill="#abcee6"/>
<rect x="150.37" y="258.74" width="12.68" height="2.78" fill="#fff5b6"/>
<rect x="163.04" y="258.74" width="12.68" height="2.78" fill="#f06d47"/>
<rect x="175.72" y="258.74" width="12.68" height="2.78" fill="#fff5b6"/>
<rect x="74.30" y="261.52" width="12.68" height="2.78" fill="#6593cd"/>
<rect x="86.98" y="261.52" width="12.68" height="2.78" fill="#6593cd"/>
<rect x="99.66" y="261.52" width="12.68" height="2.78" fill="#6593cd"/>
<rect x="112.33" y="261.52" width="12.68" height="2.78" fill="#abcee6"/>
<rect x="125.01" y="261.52" width="12.68" height="2.78" fill="#c6e1ef"/>
<rect x="137.69" y="261.52" width="12.68" height="2.78" fill="#fff5b6"/>
<rect x="150.37" y="261.52" width="12.68" height="2.78" fill="#fee293"/>
<rect x="163.04" y="261.52" width="12.68" height="2.78" fill="#fb9f61"/>
<rect x="175.72" y="261.52" width="12.68" height="2.78" fill="#fee293"/>
<rect x="74.30" y="264.29" width="12.68" height="2.78" fill="#6593cd"/>
<rect x="86.98" y="264.29" width="12.68" height="2.78" fill="#6593cd"/>
<rect x="99.66" y="264.29" width="12.68" height="2.78" fill="#6593cd"/>
<rect x="112.33" y="264.29" width="12.68" height="2.78" fill="#c6e1ef"/>
<rect x="125.01" y="264.29" width="12.68" height="2.78" fill="#abcee6"/>
<rect x="137.69" y="264.29" width="12.68" height="2.78" fill="#abcee6"/>
<rect x="150.37" y="264.29" width="12.68" height="2.78" fill="#fdc477"/>
<rect x="163.04" y="264.29" width="12.68" height="2.78" fill="#fdc477"/>
<rect x="175.72" y="264.29" width="12.68" height="2.78" fill="#fdc477"/>
<rect x="74.30" y="267.07" width="12.68" height="2.78" fill="#85b3da"/>
<rect x="86.98" y="267.07" width="12.68" height="2.78" fill="#85b3da"/>
<rect x="99.66" y="267.07" width="12.68" height="2.78" fill="#85b3da"/>
<rect x="112.33" y="267.07" width="12.68" height="2.78" fill="#abcee6"/>
<rect x="125.01" y="267.07" width="12.68" height="2.78" fill="#abcee6"/>
<rect x="137.69" y="267.07" width="12.68" height="2.78" fill="#abcee6"/>
<rect x="150.37" y="267.07" width="12.68" height="2.78" fill="#dc3a2a"/>
<rect x="163.04" y="267.07" width="12.68" height="2.78" fill="#fff5b6"/>
<rect x="175.72" y="267.07" width="12.68" height="2.78" fill="#fdc477"/>
<rect x="74.30" y="269.85" width="12.68" height="2.78" fill="#85b3da"/>
<rect x="86.98" y="269.85" width="12.68" height="2.78" fill="#85b3da"/>
<rect x="99.66" y="269.85" width="12.68" height="2.78" fill="#85b3da"/>
<rect x="112.33" y="269.85" width="12.68" height="2.78" fill="#abcee6"/>
<rect x="125.01" y="269.85" width="12.68" height="2.78" fill="#abcee6"/>
<rect x="137.69" y="269.85" width="12.68" height="2.78" fill="#abcee6"/>
<rect x="150.37" y="269.85" width="12.68" height="2.78" fill="#fb9f61"/>
<rect x="163.04" y="269.85" width="12.68" height="2.78" fill="#fff5b6"/>
<rect x="175.72" y="269.85" width="12.68" height="2.78" fill="#fee293"/>
<rect x="74.30" y="272.62" width="12.68" height="2.78" fill="#85b3da"/>
<rect x="86.98" y="272.62" width="12.68" height="2.78" fill="#85b3da"/>
<rect x="99.66" y="272.62" width="12.68" height="2.78" fill="#85b3da"/>
<rect x="112.33" y="272.62" width="12.68" height="2.78" fill="#c6e1ef"/>
<rect x="125.01" y="272.62" width="12.68" height="2.78" fill="#abcee6"/>
<rect x="137.69" y="272.62" width="12.68" height="2.78" fill="#abcee6"/>
<rect x="150.37" y="272.62" width="12.68" height="2.78" fill="#fb9f61"/>
<rect x="163.04" y="272.62" width="12.68" height="2.78" fill="#fff5b6"/>
<rect x="175.72" y="272.62" width="12.68" height="2.78" fill="#fdc477"/>
<rect x="74.30" y="275.40" width="12.68" height="2.78" fill="#85b3da"/>
<rect x="86.98" y="275.40" width="12.68" height="2.78" fill="#85b3da"/>
<rect x="99.66" y="275.40" width="12.68" height="2.78" fill="#85b3da"/>
<rect x="112.33" y="275.40" width="12.68" height="2.78" fill="#abcee6"/>
<rect x="125.01" y="275.40" width="12.68" height="2.78" fill="#abcee6"/>
<rect x="137.69" y="275.40" width="12.68" height="2.78" fill="#abcee6"/>
<rect x="150.37" y="275.40" width="12.68" height="2.78" fill="#fb9f61"/>
<rect x="163.04" y="275.40" width="12.68" height="2.78" fill="#fff5b6"/>
<rect x="175.72" y="275.40" width="12.68" height="2.78" fill="#fdc477"/>
<rect x="74.30" y="278.18" width="12.68" height="2.78" fill="#85b3da"/>
<rect x="86.98" y="278.18" width="12.68" height="2.78" fill="#85b3da"/>
<rect x="99.66" y="278.18" width="12.68" height="2.78" fill="#85b3da"/>
<rect x="112.33" y="278.18" width="12.68" height="2.78" fill="#abcee6"/>
<rect x="125.01" y="278.18" width="12.68" height="2.78" fill="#abcee6"/>
<rect x="137.69" y="278.18" width="12.68" height="2.78" fill="#abcee6"/>
<rect x="150.37" y="278.18" width="12.68" height="2.78" fill="#fb9f61"/>
<rect x="163.04" y="278.18" width="12.68" height="2.78" fill="#fff5b6"/>
<rect x="175.72" y="278.18" width="12.68" height="2.78" fill="#fee293"/>
<rect x="74.30" y="280.95" width="12.68" height="2.78" fill="#85b3da"/>
<rect x="86.98" y="280.95" width="12.68" height="2.78" fill="#85b3da"/>
<rect x="99.66" y="280.95" width="12.68" height="2.78" fill="#85b3da"/>
<rect x="112.33" y="280.95" width="12.68" height="2.78" fill="#abcee6"/>
<rect x="125.01" y="280.95" width="12.68" height="2.78" fill="#abcee6"/>
<rect x="137.69" y="280.95" width="12.68" height="2.78" fill="#abcee6"/>
<rect x="150.37" y="280.95" width="12.68" height="2.78" fill="#fdc477"/>
<rect x="163.04" y="280.95" width="12.68" height="2.78" fill="#fb9f61"/>
<rect x="175.72" y="280.95" width="12.68" height="2.78" fill="#fdc477"/>
<rect x="74.30" y="283.73" width="12.68" height="2.78" fill="#85b3da"/>
<rect x="86.98" y="283.73" width="12.68" height="2.78" fill="#85b3da"/>
<rect x="99.66" y="283.73" width="12.68" height="2.78" fill="#85b3da"/>
<rect x="112.33" y="283.73" width="12.68" height="2.78" fill="#abcee6"/>
<rect x="125.01" y="283.73" width="12.68" height="2.78" fill="#abcee6"/>
<rect x="137.69" y="283.73" width="12.68" height="2.78" fill="#abcee6"/>
<rect x="150.37" y="283.73" width="12.68" height="2.78" fill="#fb9f61"/>
<rect x="163.04" y="283.73" width="12.68" height="2.78" fill="#fdc477"/>
<rect x="175.72" y="283.73" width="12.68" height="2.78" fill="#fdc477"/>
<rect x="74.30" y="286.51" width="12.68" height="2.78" fill="#85b3da"/>
<rect x="86.98" y="286.51" width="12.68" height="2.78" fill="#85b3da"/>
<rect x="99.66" y="286.51" width="12.68" height="2.78" fill="#85b3da"/>
<rect x="112.33" y="286.51" width="12.68" height="2.78" fill="#c6e1ef"/>
<rect x="125.01" y="286.51" width="12.68" height="2.78" fill="#abcee6"/>
<rect x="137.69" y="286.51" width="12.68" height="2.78" fill="#abcee6"/>
<rect x="150.37" y="286.51" width="12.68" height="2.78" fill="#fdc477"/>
<rect x="163.04" y="286.51" width="12.68" height="2.78" fill="#fdc477"/>
<rect x="175.72" y="286.51" width="12.68" height="2.78" fill="#fee293"/>
<rect x="74.30" y="289.29" width="12.68" height="2.78" fill="#85b3da"/>
<rect x="86.98" y="289.29" width="12.68" height="2.78" fill="#85b3da"/>
<rect x="99.66" y="289.29" width="12.68" height="2.78" fill="#85b3da"/>
<rect x="112.33" y="289.29" width="12.68" height="2.78" fill="#abcee6"/>
<rect x="125.01" y="289.29" width="12.68" height="2.78" fill="#abcee6"/>
<rect x="137.69" y="289.29" width="12.68" height="2.78" fill="#abcee6"/>
<rect x="150.37" y="289.29" width="12.68" height="2.78" fill="#fff5b6"/>
<rect x="163.04" y="289.29" width="12.68" height="2.78" fill="#fee293"/>
<rect x="175.72" y="289.29" width="12.68" height="2.78" fill="#fdc477"/>
<rect x="74.30" y="292.06" width="12.68" height="2.78" fill="#85b3da"/>
<rect x="86.98" y="292.06" width="12.68" height="2.78" fill="#85b3da"/>
<rect x="99.66" y="292.06" width="12.68" height="2.78" fill="#85b3da"/>
<rect x="112.33" y="292.06" width="12.68" height="2.78" fill="#abcee6"/>
<rect x="125.01" y="292.06" width="12.68" height="2.78" fill="#abcee6"/>
<rect x="137.69" y="292.06" width="12.68" height="2.78" fill="#abcee6"/>
<rect x="150.37" y="292.06" width="12.68" height="2.78" fill="#fb9f61"/>
<rect x="163.04" y="292.06" width="12.68" height="2.78" fill="#fee293"/>
<rect x="175.72" y="292.06" width="12.68" height="2.78" fill="#fdc477"/>
<rect x="74.30" y="294.84" width="12.68" height="2.78" fill="#85b3da"/>
<rect x="86.98" y="294.84" width="12.68" height="2.78" fill="#85b3da"/>
<rect x="99.66" y="294.84" width="12.68" height="2.78" fill="#85b3da"/>
<rect x="112.33" y="294.84" width="12.68" height="2.78" fill="#abcee6"/>
<rect x="125.01" y="294.84" width="12.68" height="2.78" fill="#abcee6"/>
<rect x="137.69" y="294.84" width="12.68" height="2.78" fill="#abcee6"/>
<rect x="150.37" y="294.84" width="12.68" height="2.78" fill="#fdc477"/>
<rect x="163.04" y="294.84" width="12.68" height="2.78" fill="#fee293"/>
<rect x="175.72" y="294.84" width="12.68" height="2.78" fill="#fdc477"/>
<rect x="74.30" y="297.62" width="12.68" height="2.78" fill="#85b3da"/>
<rect x="86.98" y="297.62" width="12.68" height="2.78" fill="#85b3da"/>
<rect x="99.66" y="297.62" width="12.68" height="2.78" fill="#85b3da"/>
<rect x="112.33" y="297.62" width="12.68" height="2.78" fill="#abcee6"/>
<rect x="125.01" y="297.62" width="12.68" height="2.78" fill="#abcee6"/>
<rect x="137.69" y="297.62" width="12.68" height="2.78" fill="#c6e1ef"/>
<rect x="150.37" y="297.62" width="12.68" height="2.78" fill="#fff5b6"/>
<rect x="163.04" y="297.62" width="12.68" height="2.78" fill="#fdc477"/>
<rect x="175.72" y="297.62" width="12.68" height="2.78" fill="#fb9f61"/>
<rect x="74.30" y="300.39" width="12.68" height="2.78" fill="#76a5d4"/>
<rect x="86.98" y="300.39" width="12.68" height="2.78" fill="#76a5d4"/>
<rect x="99.66" y="300.39" width="12.68" height="2.78" fill="#76a5d4"/>
<rect x="112.33" y="300.39" width="12.68" height="2.78" fill="#c6e1ef"/>
<rect x="125.01" y="300.39" width="12.68" height="2.78" fill="#abcee6"/>
<rect x="137.69" y="300.39" width="12.68" height="2.78" fill="#abcee6"/>
<rect x="150.37" y="300.39" width="12.68" height="2.78" fill="#fff5b6"/>
<rect x="163.04" y="300.39" width="12.68" height="2.78" fill="#fdc477"/>
<rect x="175.72" y="300.39" width="12.68" height="2.78" fill="#fb9f61"/>
<rect x="74.30" y="303.17" width="12.68" height="2.78" fill="#76a5d4"/>
<rect x="86.98" y="303.17" width="12.68" height="2.78" fill="#76a5d4"/>
<rect x="99.66" y="303.17" width="12.68" height="2.78" fill="#76a5d4"/>
<rect x="112.33" y="303.17" width="12.68" height="2.78" fill="#abcee6"/>
<rect x="125.01" y="303.17" width="12.68" height="2.78" fill="#abcee6"/>
<rect x="137.69" y="303.17" width="12.68" height="2.78" fill="#abcee6"/>
<rect x="150.37" y="303.17" width="12.68" height="2.78" fill="#fff5b6"/>
<rect x="163.04" y="303.17" width="12.68" height="2.78" fill="#fdc477"/>
<rect x="175.72" y="303.17" width="12.68" height="2.78" fill="#fb9f61"/>
<rect x="74.30" y="305.95" width="12.68" height="2.78" fill="#76a5d4"/>
<rect x="86.98" y="305.95" width="12.68" height="2.78" fill="#76a5d4"/>
<rect x="99.66" y="305.95" width="12.68" height="2.78" fill="#76a5d4"/>
<rect x="112.33" y="305.95" width="12.68" height="2.78" fill="#abcee6"/>
<rect x="125.01" y="305.95" width="12.68" height="2.78" fill="#abcee6"/>
<rect x="137.69" y="305.95" width="12.68" height="2.78" fill="#abcee6"/>
<rect x="150.37" y="305.95" width="12.68" height="2.78" fill="#fee293"/>
<rect x="163.04" y="305.95" width="12.68" height="2.78" fill="#fee293"/>
<rect x="175.72" y="305.95" width="12.68" height="2.78" fill="#fdc477"/>
<rect x="74.30" y="308.73" width="12.68" height="2.78" fill="#76a5d4"/>
<rect x="86.98" y="308.73" width="12.68" height="2.78" fill="#76a5d4"/>
<rect x="99.66" y="308.73" width="12.68" height="2.78" fill="#6593cd"/>
<rect x="112.33" y="308.73" width="12.68" height="2.78" fill="#c6e1ef"/>
<rect x="125.01" y="308.73" width="12.68" height="2.78" fill="#abcee6"/>
<rect x="137.69" y="308.73" width="12.68" height="2.78" fill="#abcee6"/>
<rect x="150.37" y="308.73" width="12.68" height="2.78" fill="#fdc477"/>
<rect x="163.04" y="308.73" width="12.68" height="2.78" fill="#fee293"/>
<rect x="175.72" y="308.73" width="12.68" height="2.78" fill="#fee293"/>
<rect x="74.30" y="311.50" width="12.68" height="2.78" fill="#76a5d4"/>
<rect x="86.98" y="311.50" width="12.68" height="2.78" fill="#76a5d4"/>
<rect x="99.66" y="311.50" width="12.68" height="2.78" fill="#6593cd"/>
<rect x="112.33" y="311.50" width="12.68" height="2.78" fill="#abcee6"/>
<rect x="125.01" y="311.50" width="12.68" height="2.78" fill="#abcee6"/>
<rect x="137.69" y="311.50" width="12.68" height="2.78" fill="#abcee6"/>
<rect x="150.37" y="311.50" width="12.68" height="2.78" fill="#fdc477"/>
<rect x="163.04" y="311.50" width="12.68" height="2.78" fill="#fee293"/>
<rect x="175.72" y="311.50" width="12.68" height="2.78" fill="#fee293"/>
<rect x="74.30" y="314.28" width="12.68" height="2.78" fill="#76a5d4"/>
<rect x="86.98" y="314.28" width="12.68" height="2.78" fill="#76a5d4"/>
<rect x="99.66" y="314.28" width="12.68" height="2.78" fill="#6593cd"/>
<rect x="112.33" y="314.28" width="12.68" height="2.78" fill="#c6e1ef"/>
<rect x="125.01" y="314.28" width="12.68" height="2.78" fill="#abcee6"/>
<rect x="137.69" y="314.28" width="12.68" height="2.78" fill="#c6e1ef"/>
<rect x="150.37" y="314.28" width="12.68" height="2.78" fill="#fee293"/>
<rect x="163.04" y="314.28" width="12.68" height="2.78" fill="#fee293"/>
<rect x="175.72" y="314.28" width="12.68" height="2.78" fill="#fdc477"/>
<rect x="74.30" y="317.06" width="12.68" height="2.78" fill="#76a5d4"/>
<rect x="86.98" y="317.06" width="12.68" height="2.78" fill="#76a5d4"/>
<rect x="99.66" y="317.06" width="12.68" height="2.78" fill="#76a5d4"/>
<rect x="112.33" y="317.06" width="12.68" height="2.78" fill="#abcee6"/>
<rect x="125.01" y="317.06" width="12.68" height="2.78" fill="#abcee6"/>
<rect x="137.69" y="317.06" width="12.68" height="2.78" fill="#abcee6"/>
<rect x="150.37" y="317.06" width="12.68" height="2.78" fill="#fb9f61"/>
<rect x="163.04" y="317.06" width="12.68" height="2.78" fill="#fee293"/>
<rect x="175.72" y="317.06" width="12.68" height="2.78" fill="#fdc477"/>
<rect x="74.30" y="319.83" width="12.68" height="2.78" fill="#85b3da"/>
<rect x="86.98" y="319.83" width="12.68" height="2.78" fill="#85b3da"/>
<rect x="99.66" y="319.83" width="12.68" height="2.78" fill="#85b3da"/>
<rect x="112.33" y="319.83" width="12.68" height="2.78" fill="#abcee6"/>
<rect x="125.01" y="319.83" width="12.68" height="2.78" fill="#c6e1ef"/>
<rect x="137.69" y="319.83" width="12.68" height="2.78" fill="#abcee6"/>
<rect x="150.37" y="319.83" width="12.68" height="2.78" fill="#fff5b6"/>
<rect x="163.04" y="319.83" width="12.68" height="2.78" fill="#fff5b6"/>
<rect x="175.72" y="319.83" width="12.68" height="2.78" fill="#f06d47"/>
<rect x="74.30" y="322.61" width="12.68" height="2.78" fill="#85b3da"/>
<rect x="86.98" y="322.61" width="12.68" height="2.78" fill="#85b3da"/>
<rect x="99.66" y="322.61" width="12.68" height="2.78" fill="#85b3da"/>
<rect x="112.33" y="322.61" width="12.68" height="2.78" fill="#abcee6"/>
<rect x="125.01" y="322.61" width="12.68" height="2.78" fill="#abcee6"/>
<rect x="137.69" y="322.61" width="12.68" height="2.78" fill="#abcee6"/>
<rect x="150.37" y="322.61" width="12.68" height="2.78" fill="#fff5b6"/>
<rect x="163.04" y="322.61" width="12.68" height="2.78" fill="#fff5b6"/>
<rect x="175.72" y="322.61" width="12.68" height="2.78" fill="#dc3a2a"/>
<rect x="74.30" y="325.39" width="12.68" height="2.78" fill="#85b3da"/>
<rect x="86.98" y="325.39" width="12.68" height="2.78" fill="#85b3da"/>
<rect x="99.66" y="325.39" width="12.68" height="2.78" fill="#85b3da"/>
<rect x="112.33" y="325.39" width="12.68" height="2.78" fill="#abcee6"/>
<rect x="125.01" y="325.39" width="12.68" height="2.78" fill="#85b3da"/>
<rect x="137.69" y="325.39" width="12.68" height="2.78" fill="#abcee6"/>
<rect x="150.37" y="325.39" width="12.68" height="2.78" fill="#fdc477"/>
<rect x="163.04" y="325.39" width="12.68" height="2.78" fill="#fff5b6"/>
<rect x="175.72" y="325.39" width="12.68" height="2.78" fill="#fb9f61"/>
<rect x="74.30" y="328.16" width="12.68" height="2.78" fill="#85b3da"/>
<rect x="86.98" y="328.16" width="12.68" height="2.78" fill="#85b3da"/>
<rect x="99.66" y="328.16" width="12.68" height="2.78" fill="#85b3da"/>
<rect x="112.33" y="328.16" width="12.68" height="2.78" fill="#abcee6"/>
<rect x="125.01" y="328.16" width="12.68" height="2.78" fill="#abcee6"/>
<rect x="137.69" y="328.16" width="12.68" height="2.78" fill="#abcee6"/>
<rect x="150.37" y="328.16" width="12.68" height="2.78" fill="#fdc477"/>
<rect x="163.04" y="328.16" width="12.68" height="2.78" fill="#fff5b6"/>
<rect x="175.72" y="328.16" width="12.68" height="2.78" fill="#fb9f61"/>
<rect x="74.30" y="330.94" width="12.68" height="2.78" fill="#85b3da"/>
<rect x="86.98" y="330.94" width="12.68" height="2.78" fill="#85b3da"/>
<rect x="99.66" y="330.94" width="12.68" height="2.78" fill="#85b3da"/>
<rect x="112.33" y="330.94" width="12.68" height="2.78" fill="#abcee6"/>
<rect x="125.01" y="330.94" width="12.68" height="2.78" fill="#abcee6"/>
<rect x="137.69" y="330.94" width="12.68" height="2.78" fill="#abcee6"/>
<rect x="150.37" y="330.94" width="12.68" height="2.78" fill="#fee293"/>
<rect x="163.04" y="330.94" width="12.68" height="2.78" fill="#fff5b6"/>
<rect x="175.72" y="330.94" width="12.68" height="2.78" fill="#fb9f61"/>
<rect x="74.30" y="333.72" width="12.68" height="2.78" fill="#85b3da"/>
<rect x="86.98" y="333.72" width="12.68" height="2.78" fill="#85b3da"/>
<rect x="99.66" y="333.72" width="12.68" height="2.78" fill="#85b3da"/>
<rect x="112.33" y="333.72" width="12.68" height="2.78" fill="#abcee6"/>
<rect x="125.01" y="333.72" width="12.68" height="2.78" fill="#abcee6"/>
<rect x="137.69" y="333.72" width="12.68" height="2.78" fill="#abcee6"/>
<rect x="150.37" y="333.72" width="12.68" height="2.78" fill="#fee293"/>
<rect x="163.04" y="333.72" width="12.68" height="2.78" fill="#fff5b6"/>
<rect x="175.72" y="333.72" width="12.68" height="2.78" fill="#fb9f61"/>
<rect x="74.30" y="336.50" width="12.68" height="2.78" fill="#85b3da"/>
<rect x="86.98" y="336.50" width="12.68" height="2.78" fill="#85b3da"/>
<rect x="99.66" y="336.50" width="12.68" height="2.78" fill="#85b3da"/>
<rect x="112.33" y="336.50" width="12.68" height="2.78" fill="#abcee6"/>
<rect x="125.01" y="336.50" width="12.68" height="2.78" fill="#abcee6"/>
<rect x="137.69" y="336.50" width="12.68" height="2.78" fill="#abcee6"/>
<rect x="150.37" y="336.50" width="12.68" height="2.78" fill="#fdc477"/>
<rect x="163.04" y="336.50" width="12.68" height="2.78" fill="#fff5b6"/>
<rect x="175.72" y="336.50" width="12.68" height="2.78" fill="#fb9f61"/>
<rect x="74.30" y="339.27" width="12.68" height="2.78" fill="#76a5d4"/>
<rect x="86.98" y="339.27" width="12.68" height="2.78" fill="#76a5d4"/>
<rect x="99.66" y="339.27" width="12.68" height="2.78" fill="#76a5d4"/>
<rect x="112.33" y="339.27" width="12.68" height="2.78" fill="#c6e1ef"/>
<rect x="125.01" y="339.27" width="12.68" height="2.78" fill="#abcee6"/>
<rect x="137.69" y="339.27" width="12.68" height="2.78" fill="#c6e1ef"/>
<rect x="150.37" y="339.27" width="12.68" height="2.78" fill="#fdc477"/>
<rect x="163.04" y="339.27" width="12.68" height="2.78" fill="#f4f9dc"/>
<rect x="175.72" y="339.27" width="12.68" height="2.78" fill="#fb9f61"/>
<rect x="74.30" y="342.05" width="12.68" height="2.78" fill="#76a5d4"/>
<rect x="86.98" y="342.05" width="12.68" height="2.78" fill="#76a5d4"/>
<rect x="99.66" y="342.05" width="12.68" height="2.78" fill="#76a5d4"/>
<rect x="112.33" y="342.05" width="12.68" height="2.78" fill="#abcee6"/>
<rect x="125.01" y="342.05" width="12.68" height="2.78" fill="#abcee6"/>
<rect x="137.69" y="342.05" width="12.68" height="2.78" fill="#abcee6"/>
<rect x="150.37" y="342.05" width="12.68" height="2.78" fill="#fb9f61"/>
<rect x="163.04" y="342.05" width="12.68" height="2.78" fill="#f4f9dc"/>
<rect x="175.72" y="342.05" width="12.68" height="2.78" fill="#fb9f61"/>
<rect x="74.30" y="344.83" width="12.68" height="2.78" fill="#85b3da"/>
<rect x="86.98" y="344.83" width="12.68" height="2.78" fill="#85b3da"/>
<rect x="99.66" y="344.83" width="12.68" height="2.78" fill="#85b3da"/>
<rect x="112.33" y="344.83" width="12.68" height="2.78" fill="#abcee6"/>
<rect x="125.01" y="344.83" width="12.68" height="2.78" fill="#abcee6"/>
<rect x="137.69" y="344.83" width="12.68" height="2.78" fill="#abcee6"/>
<rect x="150.37" y="344.83" width="12.68" height="2.78" fill="#fee293"/>
<rect x="163.04" y="344.83" width="12.68" height="2.78" fill="#f4f9dc"/>
<rect x="175.72" y="344.83" width="12.68" height="2.78" fill="#f06d47"/>
<rect x="74.30" y="347.60" width="12.68" height="2.78" fill="#85b3da"/>
<rect x="86.98" y="347.60" width="12.68" height="2.78" fill="#85b3da"/>
<rect x="99.66" y="347.60" width="12.68" height="2.78" fill="#85b3da"/>
<rect x="112.33" y="347.60" width="12.68" height="2.78" fill="#abcee6"/>
<rect x="125.01" y="347.60" width="12.68" height="2.78" fill="#abcee6"/>
<rect x="137.69" y="347.60" width="12.68" height="2.78" fill="#abcee6"/>
<rect x="150.37" y="347.60" width="12.68" height="2.78" fill="#fb9f61"/>
<rect x="163.04" y="347.60" width="12.68" height="2.78" fill="#fff5b6"/>
<rect x="175.72" y="347.60" width="12.68" height="2.78" fill="#fb9f61"/>
<rect x="74.30" y="350.38" width="12.68" height="2.78" fill="#85b3da"/>
<rect x="86.98" y="350.38" width="12.68" height="2.78" fill="#85b3da"/>
<rect x="99.66" y="350.38" width="12.68" height="2.78" fill="#85b3da"/>
<rect x="112.33" y="350.38" width="12.68" height="2.78" fill="#abcee6"/>
<rect x="125.01" y="350.38" width="12.68" height="2.78" fill="#abcee6"/>
<rect x="137.69" y="350.38" width="12.68" height="2.78" fill="#abcee6"/>
<rect x="150.37" y="350.38" width="12.68" height="2.78" fill="#fdc477"/>
<rect x="163.04" y="350.38" width="12.68" height="2.78" fill="#f4f9dc"/>
<rect x="175.72" y="350.38" width="12.68" height="2.78" fill="#fb9f61"/>
<rect x="74.30" y="353.16" width="12.68" height="2.78" fill="#85b3da"/>
<rect x="86.98" y="353.16" width="12.68" height="2.78" fill="#85b3da"/>
<rect x="99.66" y="353.16" width="12.68" height="2.78" fill="#85b3da"/>
<rect x="112.33" y="353.16" width="12.68" height="2.78" fill="#abcee6"/>
<rect x="125.01" y="353.16" width="12.68" height="2.78" fill="#abcee6"/>
<rect x="137.69" y="353.16" width="12.68" height="2.78" fill="#abcee6"/>
<rect x="150.37" y="353.16" width="12.68" height="2.78" fill="#fb9f61"/>
<rect x="163.04" y="353.16" width="12.68" height="2.78" fill="#fff5b6"/>
<rect x="175.72" y="353.16" width="12.68" height="2.78" fill="#fb9f61"/>
<rect x="74.30" y="355.93" width="12.68" height="2.78" fill="#85b3da"/>
<rect x="86.98" y="355.93" width="12.68" height="2.78" fill="#85b3da"/>
<rect x="99.66" y="355.93" width="12.68" height="2.78" fill="#85b3da"/>
<rect x="112.33" y="355.93" width="12.68" height="2.78" fill="#abcee6"/>
<rect x="125.01" y="355.93" width="12.68" height="2.78" fill="#abcee6"/>
<rect x="137.69" y="355.93" width="12.68" height="2.78" fill="#abcee6"/>
<rect x="150.37" y="355.93" width="12.68" height="2.78" fill="#fb9f61"/>
<rect x="163.04" y="355.93" width="12.68" height="2.78" fill="#fff5b6"/>
<rect x="175.72" y="355.93" width="12.68" height="2.78" fill="#fb9f61"/>
<rect x="74.30" y="358.71" width="12.68" height="2.78" fill="#abcee6"/>
<rect x="86.98" y="358.71" width="12.68" height="2.78" fill="#abcee6"/>
<rect x="99.66" y="358.71" width="12.68" height="2.78" fill="#abcee6"/>
<rect x="112.33" y="358.71" width="12.68" height="2.78" fill="#fb9f61"/>
<rect x="125.01" y="358.71" width="12.68" height="2.78" fill="#fee293"/>
<rect x="137.69" y="358.71" width="12.68" height="2.78" fill="#fb9f61"/>
<rect x="150.37" y="358.71" width="12.68" height="2.78" fill="#85b3da"/>
<rect x="163.04" y="358.71" width="12.68" height="2.78" fill="#85b3da"/>
<rect x="175.72" y="358.71" width="12.68" height="2.78" fill="#85b3da"/>
<rect x="74.30" y="361.49" width="12.68" height="2.78" fill="#f4f9dc"/>
<rect x="86.98" y="361.49" width="12.68" height="2.78" fill="#fee293"/>
<rect x="99.66" y="361.49" width="12.68" height="2.78" fill="#fff5b6"/>
<rect x="112.33" y="361.49" width="12.68" height="2.78" fill="#fee293"/>
<rect x="125.01" y="361.49" width="12.68" height="2.78" fill="#fff5b6"/>
<rect x="137.69" y="361.49" width="12.68" height="2.78" fill="#fff5b6"/>
<rect x="150.37" y="361.49" width="12.68" height="2.78" fill="#4e7dc0"/>
<rect x="163.04" y="361.49" width="12.68" height="2.78" fill="#4e7dc0"/>
<rect x="175.72" y="361.49" width="12.68" height="2.78" fill="#4e7dc0"/>
<rect x="74.30" y="364.26" width="12.68" height="2.78" fill="#fff5b6"/>
<rect x="86.98" y="364.26" width="12.68" height="2.78" fill="#fee293"/>
<rect x="99.66" y="364.26" width="12.68" height="2.78" fill="#fff5b6"/>
<rect x="112.33" y="364.26" width="12.68" height="2.78" fill="#fee293"/>
<rect x="125.01" y="364.26" width="12.68" height="2.78" fill="#f4f9dc"/>
<rect x="137.69" y="364.26" width="12.68" height="2.78" fill="#fff5b6"/>
<rect x="150.37" y="364.26" width="12.68" height="2.78" fill="#4e7dc0"/>
<rect x="163.04" y="364.26" width="12.68" height="2.78" fill="#4e7dc0"/>
<rect x="175.72" y="364.26" width="12.68" height="2.78" fill="#4e7dc0"/>
<rect x="74.30" y="367.04" width="12.68" height="2.78" fill="#abcee6"/>
<rect x="86.98" y="367.04" width="12.68" height="2.78" fill="#f4f9dc"/>
<rect x="99.66" y="367.04" width="12.68" height="2.78" fill="#dbeff5"/>
<rect x="112.33" y="367.04" width="12.68" height="2.78" fill="#fee293"/>
<rect x="125.01" y="367.04" width="12.68" height="2.78" fill="#fdc477"/>
<rect x="137.69" y="367.04" width="12.68" height="2.78" fill="#fee293"/>
<rect x="150.37" y="367.04" width="12.68" height="2.78" fill="#76a5d4"/>
<rect x="163.04" y="367.04" width="12.68" height="2.78" fill="#76a5d4"/>
<rect x="175.72" y="367.04" width="12.68" height="2.78" fill="#76a5d4"/>
<rect x="74.30" y="369.82" width="12.68" height="2.78" fill="#abcee6"/>
<rect x="86.98" y="369.82" width="12.68" height="2.78" fill="#fff5b6"/>
<rect x="99.66" y="369.82" width="12.68" height="2.78" fill="#f4f9dc"/>
<rect x="112.33" y="369.82" width="12.68" height="2.78" fill="#fff5b6"/>
<rect x="125.01" y="369.82" width="12.68" height="2.78" fill="#fee293"/>
<rect x="137.69" y="369.82" width="12.68" height="2.78" fill="#fee293"/>
<rect x="150.37" y="369.82" width="12.68" height="2.78" fill="#76a5d4"/>
<rect x="163.04" y="369.82" width="12.68" height="2.78" fill="#76a5d4"/>
<rect x="175.72" y="369.82" width="12.68" height="2.78" fill="#76a5d4"/>
<rect x="74.30" y="372.60" width="12.68" height="2.78" fill="#abcee6"/>
<rect x="86.98" y="372.60" width="12.68" height="2.78" fill="#fff5b6"/>
<rect x="99.66" y="372.60" width="12.68" height="2.78" fill="#fff5b6"/>
<rect x="112.33" y="372.60" width="12.68" height="2.78" fill="#fee293"/>
<rect x="125.01" y="372.60" width="12.68" height="2.78" fill="#fff5b6"/>
<rect x="137.69" y="372.60" width="12.68" height="2.78" fill="#fee293"/>
<rect x="150.37" y="372.60" width="12.68" height="2.78" fill="#4e7dc0"/>
<rect x="163.04" y="372.60" width="12.68" height="2.78" fill="#4e7dc0"/>
<rect x="175.72" y="372.60" width="12.68" height="2.78" fill="#76a5d4"/>
<rect x="74.30" y="375.37" width="12.68" height="2.78" fill="#abcee6"/>
<rect x="86.98" y="375.37" width="12.68" height="2.78" fill="#fee293"/>
<rect x="99.66" y="375.37" width="12.68" height="2.78" fill="#fff5b6"/>
<rect x="112.33" y="375.37" width="12.68" height="2.78" fill="#fee293"/>
<rect x="125.01" y="375.37" width="12.68" height="2.78" fill="#fee293"/>
<rect x="137.69" y="375.37" width="12.68" height="2.78" fill="#fff5b6"/>
<rect x="150.37" y="375.37" width="12.68" height="2.78" fill="#4e7dc0"/>
<rect x="163.04" y="375.37" width="12.68" height="2.78" fill="#4e7dc0"/>
<rect x="175.72" y="375.37" width="12.68" height="2.78" fill="#76a5d4"/>
<rect x="74.30" y="378.15" width="12.68" height="2.78" fill="#f4f9dc"/>
<rect x="86.98" y="378.15" width="12.68" height="2.78" fill="#fee293"/>
<rect x="99.66" y="378.15" width="12.68" height="2.78" fill="#f06d47"/>
<rect x="112.33" y="378.15" width="12.68" height="2.78" fill="#abcee6"/>
<rect x="125.01" y="378.15" width="12.68" height="2.78" fill="#c6e1ef"/>
<rect x="137.69" y="378.15" width="12.68" height="2.78" fill="#f4f9dc"/>
<rect x="150.37" y="378.15" width="12.68" height="2.78" fill="#76a5d4"/>
<rect x="163.04" y="378.15" width="12.68" height="2.78" fill="#76a5d4"/>
<rect x="175.72" y="378.15" width="12.68" height="2.78" fill="#76a5d4"/>
<rect x="74.30" y="380.93" width="12.68" height="2.78" fill="#fff5b6"/>
<rect x="86.98" y="380.93" width="12.68" height="2.78" fill="#fff5b6"/>
<rect x="99.66" y="380.93" width="12.68" height="2.78" fill="#dc3a2a"/>
<rect x="112.33" y="380.93" width="12.68" height="2.78" fill="#abcee6"/>
<rect x="125.01" y="380.93" width="12.68" height="2.78" fill="#abcee6"/>
<rect x="137.69" y="380.93" width="12.68" height="2.78" fill="#c6e1ef"/>
<rect x="150.37" y="380.93" width="12.68" height="2.78" fill="#76a5d4"/>
<rect x="163.04" y="380.93" width="12.68" height="2.78" fill="#76a5d4"/>
<rect x="175.72" y="380.93" width="12.68" height="2.78" fill="#76a5d4"/>
<rect x="74.30" y="383.70" width="12.68" height="2.78" fill="#fff5b6"/>
<rect x="86.98" y="383.70" width="12.68" height="2.78" fill="#fee293"/>
<rect x="99.66" y="383.70" width="12.68" height="2.78" fill="#f06d47"/>
<rect x="112.33" y="383.70" width="12.68" height="2.78" fill="#abcee6"/>
<rect x="125.01" y="383.70" width="12.68" height="2.78" fill="#abcee6"/>
<rect x="137.69" y="383.70" width="12.68" height="2.78" fill="#abcee6"/>
<rect x="150.37" y="383.70" width="12.68" height="2.78" fill="#76a5d4"/>
<rect x="163.04" y="383.70" width="12.68" height="2.78" fill="#76a5d4"/>
<rect x="175.72" y="383.70" width="12.68" height="2.78" fill="#76a5d4"/>
<rect x="74.30" y="386.48" width="12.68" height="2.78" fill="#fff5b6"/>
<rect x="86.98" y="386.48" width="12.68" height="2.78" fill="#fee293"/>
<rect x="99.66" y="386.48" width="12.68" height="2.78" fill="#f06d47"/>
<rect x="112.33" y="386.48" width="12.68" height="2.78" fill="#abcee6"/>
<rect x="125.01" y="386.48" width="12.68" height="2.78" fill="#abcee6"/>
<rect x="137.69" y="386.48" width="12.68" height="2.78" fill="#abcee6"/>
<rect x="150.37" y="386.48" width="12.68" height="2.78" fill="#76a5d4"/>
<rect x="163.04" y="386.48" width="12.68" height="2.78" fill="#76a5d4"/>
<rect x="175.72" y="386.48" width="12.68" height="2.78" fill="#76a5d4"/>
<rect x="74.30" y="389.26" width="12.68" height="2.78" fill="#fff5b6"/>
<rect x="86.98" y="389.26" width="12.68" height="2.78" fill="#fff5b6"/>
<rect x="99.66" y="389.26" width="12.68" height="2.78" fill="#f06d47"/>
<rect x="112.33" y="389.26" width="12.68" height="2.78" fill="#abcee6"/>
<rect x="125.01" y="389.26" width="12.68" height="2.78" fill="#abcee6"/>
<rect x="137.69" y="389.26" width="12.68" height="2.78" fill="#abcee6"/>
<rect x="150.37" y="389.26" width="12.68" height="2.78" fill="#76a5d4"/>
<rect x="163.04" y="389.26" width="12.68" height="2.78" fill="#76a5d4"/>
<rect x="175.72" y="389.26" width="12.68" height="2.78" fill="#76a5d4"/>
<rect x="74.30" y="392.03" width="12.68" height="2.78" fill="#f4f9dc"/>
<rect x="86.98" y="392.03" width="12.68" height="2.78" fill="#f06d47"/>
<rect x="99.66" y="392.03" width="12.68" height="2.78" fill="#fee293"/>
<rect x="112.33" y="392.03" width="12.68" height="2.78" fill="#abcee6"/>
<rect x="125.01" y="392.03" width="12.68" height="2.78" fill="#abcee6"/>
<rect x="137.69" y="392.03" width="12.68" height="2.78" fill="#abcee6"/>
<rect x="150.37" y="392.03" width="12.68" height="2.78" fill="#76a5d4"/>
<rect x="163.04" y="392.03" width="12.68" height="2.78" fill="#76a5d4"/>
<rect x="175.72" y="392.03" width="12.68" height="2.78" fill="#76a5d4"/>
<rect x="74.30" y="394.81" width="12.68" height="2.78" fill="#fdc477"/>
<rect x="86.98" y="394.81" width="12.68" height="2.78" fill="#fb9f61"/>
<rect x="99.66" y="394.81" width="12.68" height="2.78" fill="#fff5b6"/>
<rect x="112.33" y="394.81" width="12.68" height="2.78" fill="#abcee6"/>
<rect x="125.01" y="394.81" width="12.68" height="2.78" fill="#abcee6"/>
<rect x="137.69" y="394.81" width="12.68" height="2.78" fill="#abcee6"/>
<rect x="150.37" y="394.81" width="12.68" height="2.78" fill="#76a5d4"/>
<rect x="163.04" y="394.81" width="12.68" height="2.78" fill="#76a5d4"/>
<rect x="175.72" y="394.81" width="12.68" height="2.78" fill="#76a5d4"/>
<rect x="74.30" y="397.59" width="12.68" height="2.78" fill="#fee293"/>
<rect x="86.98" y="397.59" width="12.68" height="2.78" fill="#fb9f61"/>
<rect x="99.66" y="397.59" width="12.68" height="2.78" fill="#fff5b6"/>
<rect x="112.33" y="397.59" width="12.68" height="2.78" fill="#abcee6"/>
<rect x="125.01" y="397.59" width="12.68" height="2.78" fill="#abcee6"/>
<rect x="137.69" y="397.59" width="12.68" height="2.78" fill="#abcee6"/>
<rect x="150.37" y="397.59" width="12.68" height="2.78" fill="#76a5d4"/>
<rect x="163.04" y="397.59" width="12.68" height="2.78" fill="#76a5d4"/>
<rect x="175.72" y="397.59" width="12.68" height="2.78" fill="#76a5d4"/>
<rect x="74.30" y="400.37" width="12.68" height="2.78" fill="#fdc477"/>
<rect x="86.98" y="400.37" width="12.68" height="2.78" fill="#fb9f61"/>
<rect x="99.66" y="400.37" width="12.68" height="2.78" fill="#fee293"/>
<rect x="112.33" y="400.37" width="12.68" height="2.78" fill="#abcee6"/>
<rect x="125.01" y="400.37" width="12.68" height="2.78" fill="#c6e1ef"/>
<rect x="137.69" y="400.37" width="12.68" height="2.78" fill="#abcee6"/>
<rect x="150.37" y="400.37" width="12.68" height="2.78" fill="#76a5d4"/>
<rect x="163.04" y="400.37" width="12.68" height="2.78" fill="#76a5d4"/>
<rect x="175.72" y="400.37" width="12.68" height="2.78" fill="#76a5d4"/>
<rect x="74.30" y="403.14" width="12.68" height="2.78" fill="#fee293"/>
<rect x="86.98" y="403.14" width="12.68" height="2.78" fill="#fb9f61"/>
<rect x="99.66" y="403.14" width="12.68" height="2.78" fill="#fee293"/>
<rect x="112.33" y="403.14" width="12.68" height="2.78" fill="#abcee6"/>
<rect x="125.01" y="403.14" width="12.68" height="2.78" fill="#abcee6"/>
<rect x="137.69" y="403.14" width="12.68" height="2.78" fill="#c6e1ef"/>
<rect x="150.37" y="403.14" width="12.68" height="2.78" fill="#76a5d4"/>
<rect x="163.04" y="403.14" width="12.68" height="2.78" fill="#76a5d4"/>
<rect x="175.72" y="403.14" width="12.68" height="2.78" fill="#76a5d4"/>
<rect x="74.30" y="405.92" width="12.68" height="2.78" fill="#fdc477"/>
<rect x="86.98" y="405.92" width="12.68" height="2.78" fill="#fdc477"/>
<rect x="99.66" y="405.92" width="12.68" height="2.78" fill="#fee293"/>
<rect x="112.33" y="405.92" width="12.68" height="2.78" fill="#abcee6"/>
<rect x="125.01" y="405.92" width="12.68" height="2.78" fill="#c6e1ef"/>
<rect x="137.69" y="405.92" width="12.68" height="2.78" fill="#c6e1ef"/>
<rect x="150.37" y="405.92" width="12.68" height="2.78" fill="#76a5d4"/>
<rect x="163.04" y="405.92" width="12.68" height="2.78" fill="#76a5d4"/>
<rect x="175.72" y="405.92" width="12.68" height="2.78" fill="#76a5d4"/>
<rect x="74.30" y="408.70" width="12.68" height="2.78" fill="#fee293"/>
<rect x="86.98" y="408.70" width="12.68" height="2.78" fill="#fdc477"/>
<rect x="99.66" y="408.70" width="12.68" height="2.78" fill="#fee293"/>
<rect x="112.33" y="408.70" width="12.68" height="2.78" fill="#abcee6"/>
<rect x="125.01" y="408.70" width="12.68" height="2.78" fill="#c6e1ef"/>
<rect x="137.69" y="408.70" width="12.68" height="2.78" fill="#c6e1ef"/>
<rect x="150.37" y="408.70" width="12.68" height="2.78" fill="#76a5d4"/>
<rect x="163.04" y="408.70" width="12.68" height="2.78" fill="#76a5d4"/>
<rect x="175.72" y="408.70" width="12.68" height="2.78" fill="#76a5d4"/>
<rect x="74.30" y="411.47" width="12.68" height="2.78" fill="#fdc477"/>
<rect x="86.98" y="411.47" width="12.68" height="2.78" fill="#fdc477"/>
<rect x="99.66" y="411.47" width="12.68" height="2.78" fill="#fee293"/>
<rect x="112.33" y="411.47" width="12.68" height="2.78" fill="#abcee6"/>
<rect x="125.01" y="411.47" width="12.68" height="2.78" fill="#c6e1ef"/>
<rect x="137.69" y="411.47" width="12.68" height="2.78" fill="#c6e1ef"/>
<rect x="150.37" y="411.47" width="12.68" height="2.78" fill="#76a5d4"/>
<rect x="163.04" y="411.47" width="12.68" height="2.78" fill="#76a5d4"/>
<rect x="175.72" y="411.47" width="12.68" height="2.78" fill="#76a5d4"/>
<rect x="74.30" y="414.25" width="12.68" height="2.78" fill="#fdc477"/>
<rect x="86.98" y="414.25" width="12.68" height="2.78" fill="#fdc477"/>
<rect x="99.66" y="414.25" width="12.68" height="2.78" fill="#fee293"/>
<rect x="112.33" y="414.25" width="12.68" height="2.78" fill="#abcee6"/>
<rect x="125.01" y="414.25" width="12.68" height="2.78" fill="#abcee6"/>
<rect x="137.69" y="414.25" width="12.68" height="2.78" fill="#c6e1ef"/>
<rect x="150.37" y="414.25" width="12.68" height="2.78" fill="#76a5d4"/>
<rect x="163.04" y="414.25" width="12.68" height="2.78" fill="#76a5d4"/>
<rect x="175.72" y="414.25" width="12.68" height="2.78" fill="#76a5d4"/>
<rect x="74.30" y="417.03" width="12.68" height="2.78" fill="#fff5b6"/>
<rect x="86.98" y="417.03" width="12.68" height="2.78" fill="#fdc477"/>
<rect x="99.66" y="417.03" width="12.68" height="2.78" fill="#f06d47"/>
<rect x="112.33" y="417.03" width="12.68" height="2.78" fill="#abcee6"/>
<rect x="125.01" y="417.03" width="12.68" height="2.78" fill="#85b3da"/>
<rect x="137.69" y="417.03" width="12.68" height="2.78" fill="#abcee6"/>
<rect x="150.37" y="417.03" width="12.68" height="2.78" fill="#76a5d4"/>
<rect x="163.04" y="417.03" width="12.68" height="2.78" fill="#76a5d4"/>
<rect x="175.72" y="417.03" width="12.68" height="2.78" fill="#76a5d4"/>
<rect x="74.30" y="419.80" width="12.68" height="2.78" fill="#fff5b6"/>
<rect x="86.98" y="419.80" width="12.68" height="2.78" fill="#f06d47"/>
<rect x="99.66" y="419.80" width="12.68" height="2.78" fill="#fdc477"/>
<rect x="112.33" y="419.80" width="12.68" height="2.78" fill="#abcee6"/>
<rect x="125.01" y="419.80" width="12.68" height="2.78" fill="#85b3da"/>
<rect x="137.69" y="419.80" width="12.68" height="2.78" fill="#abcee6"/>
<rect x="150.37" y="419.80" width="12.68" height="2.78" fill="#76a5d4"/>
<rect x="163.04" y="419.80" width="12.68" height="2.78" fill="#76a5d4"/>
<rect x="175.72" y="419.80" width="12.68" height="2.78" fill="#76a5d4"/>
<rect x="74.30" y="422.58" width="12.68" height="2.78" fill="#fee293"/>
<rect x="86.98" y="422.58" width="12.68" height="2.78" fill="#fb9f61"/>
<rect x="99.66" y="422.58" width="12.68" height="2.78" fill="#fdc477"/>
<rect x="112.33" y="422.58" width="12.68" height="2.78" fill="#abcee6"/>
<rect x="125.01" y="422.58" width="12.68" height="2.78" fill="#abcee6"/>
<rect x="137.69" y="422.58" width="12.68" height="2.78" fill="#abcee6"/>
<rect x="150.37" y="422.58" width="12.68" height="2.78" fill="#76a5d4"/>
<rect x="163.04" y="422.58" width="12.68" height="2.78" fill="#76a5d4"/>
<rect x="175.72" y="422.58" width="12.68" height="2.78" fill="#76a5d4"/>
<rect x="74.30" y="425.36" width="12.68" height="2.78" fill="#fee293"/>
<rect x="86.98" y="425.36" width="12.68" height="2.78" fill="#fdc477"/>
<rect x="99.66" y="425.36" width="12.68" height="2.78" fill="#fdc477"/>
<rect x="112.33" y="425.36" width="12.68" height="2.78" fill="#abcee6"/>
<rect x="125.01" y="425.36" width="12.68" height="2.78" fill="#abcee6"/>
<rect x="137.69" y="425.36" width="12.68" height="2.78" fill="#c6e1ef"/>
<rect x="150.37" y="425.36" width="12.68" height="2.78" fill="#76a5d4"/>
<rect x="163.04" y="425.36" width="12.68" height="2.78" fill="#76a5d4"/>
<rect x="175.72" y="425.36" width="12.68" height="2.78" fill="#76a5d4"/>
<rect x="74.30" y="428.14" width="12.68" height="2.78" fill="#fee293"/>
<rect x="86.98" y="428.14" width="12.68" height="2.78" fill="#fdc477"/>
<rect x="99.66" y="428.14" width="12.68" height="2.78" fill="#fdc477"/>
<rect x="112.33" y="428.14" width="12.68" height="2.78" fill="#abcee6"/>
<rect x="125.01" y="428.14" width="12.68" height="2.78" fill="#abcee6"/>
<rect x="137.69" y="428.14" width="12.68" height="2.78" fill="#c6e1ef"/>
<rect x="150.37" y="428.14" width="12.68" height="2.78" fill="#76a5d4"/>
<rect x="163.04" y="428.14" width="12.68" height="2.78" fill="#76a5d4"/>
<rect x="175.72" y="428.14" width="12.68" height="2.78" fill="#76a5d4"/>
<rect x="74.30" y="430.91" width="12.68" height="2.78" fill="#fdc477"/>
<rect x="86.98" y="430.91" width="12.68" height="2.78" fill="#fee293"/>
<rect x="99.66" y="430.91" width="12.68" height="2.78" fill="#fdc477"/>
<rect x="112.33" y="430.91" width="12.68" height="2.78" fill="#abcee6"/>
<rect x="125.01" y="430.91" width="12.68" height="2.78" fill="#abcee6"/>
<rect x="137.69" y="430.91" width="12.68" height="2.78" fill="#abcee6"/>
<rect x="150.37" y="430.91" width="12.68" height="2.78" fill="#76a5d4"/>
<rect x="163.04" y="430.91" width="12.68" height="2.78" fill="#76a5d4"/>
<rect x="175.72" y="430.91" width="12.68" height="2.78" fill="#76a5d4"/>
<rect x="74.30" y="433.69" width="12.68" height="2.78" fill="#fee293"/>
<rect x="86.98" y="433.69" width="12.68" height="2.78" fill="#fff5b6"/>
<rect x="99.66" y="433.69" width="12.68" height="2.78" fill="#f06d47"/>
<rect x="112.33" y="433.69" width="12.68" height="2.78" fill="#abcee6"/>
<rect x="125.01" y="433.69" width="12.68" height="2.78" fill="#abcee6"/>
<rect x="137.69" y="433.69" width="12.68" height="2.78" fill="#abcee6"/>
<rect x="150.37" y="433.69" width="12.68" height="2.78" fill="#76a5d4"/>
<rect x="163.04" y="433.69" width="12.68" height="2.78" fill="#76a5d4"/>
<rect x="175.72" y="433.69" width="12.68" height="2.78" fill="#76a5d4"/>
<rect x="74.30" y="436.47" width="12.68" height="2.78" fill="#fdc477"/>
<rect x="86.98" y="436.47" width="12.68" height="2.78" fill="#fee293"/>
<rect x="99.66" y="436.47" width="12.68" height="2.78" fill="#fb9f61"/>
<rect x="112.33" y="436.47" width="12.68" height="2.78" fill="#abcee6"/>
<rect x="125.01" y="436.47" width="12.68" height="2.78" fill="#abcee6"/>
<rect x="137.69" y="436.47" width="12.68" height="2.78" fill="#c6e1ef"/>
<rect x="150.37" y="436.47" width="12.68" height="2.78" fill="#76a5d4"/>
<rect x="163.04" y="436.47" width="12.68" height="2.78" fill="#76a5d4"/>
<rect x="175.72" y="436.47" width="12.68" height="2.78" fill="#76a5d4"/>
<rect x="74.30" y="439.24" width="12.68" height="2.78" fill="#fb9f61"/>
<rect x="86.98" y="439.24" width="12.68" height="2.78" fill="#fee293"/>
<rect x="99.66" y="439.24" width="12.68" height="2.78" fill="#fdc477"/>
<rect x="112.33" y="439.24" width="12.68" height="2.78" fill="#abcee6"/>
<rect x="125.01" y="439.24" width="12.68" height="2.78" fill="#abcee6"/>
<rect x="137.69" y="439.24" width="12.68" height="2.78" fill="#abcee6"/>
<rect x="150.37" y="439.24" width="12.68" height="2.78" fill="#76a5d4"/>
<rect x="163.04" y="439.24" width="12.68" height="2.78" fill="#76a5d4"/>
<rect x="175.72" y="439.24" width="12.68" height="2.78" fill="#76a5d4"/>
<rect x="74.30" y="442.02" width="12.68" height="2.78" fill="#fdc477"/>
<rect x="86.98" y="442.02" width="12.68" height="2.78" fill="#fee293"/>
<rect x="99.66" y="442.02" width="12.68" height="2.78" fill="#fb9f61"/>
<rect x="112.33" y="442.02" width="12.68" height="2.78" fill="#abcee6"/>
<rect x="125.01" y="442.02" width="12.68" height="2.78" fill="#abcee6"/>
<rect x="137.69" y="442.02" width="12.68" height="2.78" fill="#abcee6"/>
<rect x="150.37" y="442.02" width="12.68" height="2.78" fill="#76a5d4"/>
<rect x="163.04" y="442.02" width="12.68" height="2.78" fill="#76a5d4"/>
<rect x="175.72" y="442.02" width="12.68" height="2.78" fill="#76a5d4"/>
<rect x="74.30" y="444.80" width="12.68" height="2.78" fill="#fdc477"/>
<rect x="86.98" y="444.80" width="12.68" height="2.78" fill="#fee293"/>
<rect x="99.66" y="444.80" width="12.68" height="2.78" fill="#fb9f61"/>
<rect x="112.33" y="444.80" width="12.68" height="2.78" fill="#abcee6"/>
<rect x="125.01" y="444.80" width="12.68" height="2.78" fill="#abcee6"/>
<rect x="137.69" y="444.80" width="12.68" height="2.78" fill="#c6e1ef"/>
<rect x="150.37" y="444.80" width="12.68" height="2.78" fill="#76a5d4"/>
<rect x="163.04" y="444.80" width="12.68" height="2.78" fill="#76a5d4"/>
<rect x="175.72" y="444.80" width="12.68" height="2.78" fill="#76a5d4"/>
<rect x="74.30" y="447.57" width="12.68" height="2.78" fill="#fb9f61"/>
<rect x="86.98" y="447.57" width="12.68" height="2.78" fill="#fee293"/>
<rect x="99.66" y="447.57" width="12.68" height="2.78" fill="#fdc477"/>
<rect x="112.33" y="447.57" width="12.68" height="2.78" fill="#abcee6"/>
<rect x="125.01" y="447.57" width="12.68" height="2.78" fill="#abcee6"/>
<rect x="137.69" y="447.57" width="12.68" height="2.78" fill="#abcee6"/>
<rect x="150.37" y="447.57" width="12.68" height="2.78" fill="#76a5d4"/>
<rect x="163.04" y="447.57" width="12.68" height="2.78" fill="#76a5d4"/>
<rect x="175.72" y="447.57" width="12.68" height="2.78" fill="#76a5d4"/>
<rect x="74.30" y="450.35" width="12.68" height="2.78" fill="#fdc477"/>
<rect x="86.98" y="450.35" width="12.68" height="2.78" fill="#fee293"/>
<rect x="99.66" y="450.35" width="12.68" height="2.78" fill="#fee293"/>
<rect x="112.33" y="450.35" width="12.68" height="2.78" fill="#abcee6"/>
<rect x="125.01" y="450.35" width="12.68" height="2.78" fill="#abcee6"/>
<rect x="137.69" y="450.35" width="12.68" height="2.78" fill="#abcee6"/>
<rect x="150.37" y="450.35" width="12.68" height="2.78" fill="#76a5d4"/>
<rect x="163.04" y="450.35" width="12.68" height="2.78" fill="#76a5d4"/>
<rect x="175.72" y="450.35" width="12.68" height="2.78" fill="#76a5d4"/>
<rect x="74.30" y="453.13" width="12.68" height="2.78" fill="#f06d47"/>
<rect x="86.98" y="453.13" width="12.68" height="2.78" fill="#fff5b6"/>
<rect x="99.66" y="453.13" width="12.68" height="2.78" fill="#fee293"/>
<rect x="112.33" y="453.13" width="12.68" height="2.78" fill="#abcee6"/>
<rect x="125.01" y="453.13" width="12.68" height="2.78" fill="#85b3da"/>
<rect x="137.69" y="453.13" width="12.68" height="2.78" fill="#abcee6"/>
<rect x="150.37" y="453.13" width="12.68" height="2.78" fill="#76a5d4"/>
<rect x="163.04" y="453.13" width="12.68" height="2.78" fill="#76a5d4"/>
<rect x="175.72" y="453.13" width="12.68" height="2.78" fill="#76a5d4"/>
<rect x="74.30" y="455.91" width="12.68" height="2.78" fill="#dc3a2a"/>
<rect x="86.98" y="455.91" width="12.68" height="2.78" fill="#fff5b6"/>
<rect x="99.66" y="455.91" width="12.68" height="2.78" fill="#fff5b6"/>
<rect x="112.33" y="455.91" width="12.68" height="2.78" fill="#abcee6"/>
<rect x="125.01" y="455.91" width="12.68" height="2.78" fill="#85b3da"/>
<rect x="137.69" y="455.91" width="12.68" height="2.78" fill="#abcee6"/>
<rect x="150.37" y="455.91" width="12.68" height="2.78" fill="#76a5d4"/>
<rect x="163.04" y="455.91" width="12.68" height="2.78" fill="#76a5d4"/>
<rect x="175.72" y="455.91" width="12.68" height="2.78" fill="#76a5d4"/>
<rect x="74.30" y="458.68" width="12.68" height="2.78" fill="#dc3a2a"/>
<rect x="86.98" y="458.68" width="12.68" height="2.78" fill="#fff5b6"/>
<rect x="99.66" y="458.68" width="12.68" height="2.78" fill="#fff5b6"/>
<rect x="112.33" y="458.68" width="12.68" height="2.78" fill="#abcee6"/>
<rect x="125.01" y="458.68" width="12.68" height="2.78" fill="#85b3da"/>
<rect x="137.69" y="458.68" width="12.68" height="2.78" fill="#abcee6"/>
<rect x="150.37" y="458.68" width="12.68" height="2.78" fill="#76a5d4"/>
<rect x="163.04" y="458.68" width="12.68" height="2.78" fill="#76a5d4"/>
<rect x="175.72" y="458.68" width="12.68" height="2.78" fill="#76a5d4"/>
<rect x="74.30" y="461.46" width="12.68" height="2.78" fill="#fff5b6"/>
<rect x="86.98" y="461.46" width="12.68" height="2.78" fill="#fee293"/>
<rect x="99.66" y="461.46" width="12.68" height="2.78" fill="#fee293"/>
<rect x="112.33" y="461.46" width="12.68" height="2.78" fill="#dbeff5"/>
<rect x="125.01" y="461.46" width="12.68" height="2.78" fill="#dbeff5"/>
<rect x="137.69" y="461.46" width="12.68" height="2.78" fill="#f4f9dc"/>
<rect x="150.37" y="461.46" width="12.68" height="2.78" fill="#4e7dc0"/>
<rect x="163.04" y="461.46" width="12.68" height="2.78" fill="#4e7dc0"/>
<rect x="175.72" y="461.46" width="12.68" height="2.78" fill="#4e7dc0"/>
<rect x="74.30" y="464.24" width="12.68" height="2.78" fill="#fff5b6"/>
<rect x="86.98" y="464.24" width="12.68" height="2.78" fill="#fee293"/>
<rect x="99.66" y="464.24" width="12.68" height="2.78" fill="#fee293"/>
<rect x="112.33" y="464.24" width="12.68" height="2.78" fill="#dbeff5"/>
<rect x="125.01" y="464.24" width="12.68" height="2.78" fill="#dbeff5"/>
<rect x="137.69" y="464.24" width="12.68" height="2.78" fill="#fff5b6"/>
<rect x="150.37" y="464.24" width="12.68" height="2.78" fill="#4e7dc0"/>
<rect x="163.04" y="464.24" width="12.68" height="2.78" fill="#4e7dc0"/>
<rect x="175.72" y="464.24" width="12.68" height="2.78" fill="#4e7dc0"/>
<rect x="74.30" y="467.01" width="12.68" height="2.78" fill="#fff5b6"/>
<rect x="86.98" y="467.01" width="12.68" height="2.78" fill="#fdc477"/>
<rect x="99.66" y="467.01" width="12.68" height="2.78" fill="#fee293"/>
<rect x="112.33" y="467.01" width="12.68" height="2.78" fill="#dbeff5"/>
<rect x="125.01" y="467.01" width="12.68" height="2.78" fill="#dbeff5"/>
<rect x="137.69" y="467.01" width="12.68" height="2.78" fill="#f4f9dc"/>
<rect x="150.37" y="467.01" width="12.68" height="2.78" fill="#4e7dc0"/>
<rect x="163.04" y="467.01" width="12.68" height="2.78" fill="#4e7dc0"/>
<rect x="175.72" y="467.01" width="12.68" height="2.78" fill="#4e7dc0"/>
<rect x="74.30" y="469.79" width="12.68" height="2.78" fill="#fff5b6"/>
<rect x="86.98" y="469.79" width="12.68" height="2.78" fill="#fdc477"/>
<rect x="99.66" y="469.79" width="12.68" height="2.78" fill="#fdc477"/>
<rect x="112.33" y="469.79" width="12.68" height="2.78" fill="#dbeff5"/>
<rect x="125.01" y="469.79" width="12.68" height="2.78" fill="#dbeff5"/>
<rect x="137.69" y="469.79" width="12.68" height="2.78" fill="#fff5b6"/>
<rect x="150.37" y="469.79" width="12.68" height="2.78" fill="#4e7dc0"/>
<rect x="163.04" y="469.79" width="12.68" height="2.78" fill="#4e7dc0"/>
<rect x="175.72" y="469.79" width="12.68" height="2.78" fill="#4e7dc0"/>
<rect x="74.30" y="472.57" width="12.68" height="2.78" fill="#fff5b6"/>
<rect x="86.98" y="472.57" width="12.68" height="2.78" fill="#fdc477"/>
<rect x="99.66" y="472.57" width="12.68" height="2.78" fill="#fdc477"/>
<rect x="112.33" y="472.57" width="12.68" height="2.78" fill="#dbeff5"/>
<rect x="125.01" y="472.57" width="12.68" height="2.78" fill="#dbeff5"/>
<rect x="137.69" y="472.57" width="12.68" height="2.78" fill="#fff5b6"/>
<rect x="150.37" y="472.57" width="12.68" height="2.78" fill="#4e7dc0"/>
<rect x="163.04" y="472.57" width="12.68" height="2.78" fill="#4e7dc0"/>
<rect x="175.72" y="472.57" width="12.68" height="2.78" fill="#4e7dc0"/>
<rect x="74.30" y="475.35" width="12.68" height="2.78" fill="#fb9f61"/>
<rect x="86.98" y="475.35" width="12.68" height="2.78" fill="#fee293"/>
<rect x="99.66" y="475.35" width="12.68" height="2.78" fill="#fff5b6"/>
<rect x="112.33" y="475.35" width="12.68" height="2.78" fill="#dbeff5"/>
<rect x="125.01" y="475.35" width="12.68" height="2.78" fill="#dbeff5"/>
<rect x="137.69" y="475.35" width="12.68" height="2.78" fill="#f4f9dc"/>
<rect x="150.37" y="475.35" width="12.68" height="2.78" fill="#4e7dc0"/>
<rect x="163.04" y="475.35" width="12.68" height="2.78" fill="#4e7dc0"/>
<rect x="175.72" y="475.35" width="12.68" height="2.78" fill="#4e7dc0"/>
<rect x="74.30" y="478.12" width="12.68" height="2.78" fill="#fb9f61"/>
<rect x="86.98" y="478.12" width="12.68" height="2.78" fill="#fdc477"/>
<rect x="99.66" y="478.12" width="12.68" height="2.78" fill="#fff5b6"/>
<rect x="112.33" y="478.12" width="12.68" height="2.78" fill="#dbeff5"/>
<rect x="125.01" y="478.12" width="12.68" height="2.78" fill="#dbeff5"/>
<rect x="137.69" y="478.12" width="12.68" height="2.78" fill="#fff5b6"/>
<rect x="150.37" y="478.12" width="12.68" height="2.78" fill="#4e7dc0"/>
<rect x="163.04" y="478.12" width="12.68" height="2.78" fill="#4e7dc0"/>
<rect x="175.72" y="478.12" width="12.68" height="2.78" fill="#4e7dc0"/>
<rect x="74.30" y="480.90" width="12.68" height="2.78" fill="#fb9f61"/>
<rect x="86.98" y="480.90" width="12.68" height="2.78" fill="#fff5b6"/>
<rect x="99.66" y="480.90" width="12.68" height="2.78" fill="#fee293"/>
<rect x="112.33" y="480.90" width="12.68" height="2.78" fill="#dbeff5"/>
<rect x="125.01" y="480.90" width="12.68" height="2.78" fill="#dbeff5"/>
<rect x="137.69" y="480.90" width="12.68" height="2.78" fill="#f4f9dc"/>
<rect x="150.37" y="480.90" width="12.68" height="2.78" fill="#4e7dc0"/>
<rect x="163.04" y="480.90" width="12.68" height="2.78" fill="#4e7dc0"/>
<rect x="175.72" y="480.90" width="12.68" height="2.78" fill="#4e7dc0"/>
<rect x="74.30" y="483.68" width="12.68" height="2.78" fill="#fb9f61"/>
<rect x="86.98" y="483.68" width="12.68" height="2.78" fill="#fff5b6"/>
<rect x="99.66" y="483.68" width="12.68" height="2.78" fill="#fee293"/>
<rect x="112.33" y="483.68" width="12.68" height="2.78" fill="#dbeff5"/>
<rect x="125.01" y="483.68" width="12.68" height="2.78" fill="#dbeff5"/>
<rect x="137.69" y="483.68" width="12.68" height="2.78" fill="#f4f9dc"/>
<rect x="150.37" y="483.68" width="12.68" height="2.78" fill="#4e7dc0"/>
<rect x="163.04" y="483.68" width="12.68" height="2.78" fill="#4e7dc0"/>
<rect x="175.72" y="483.68" width="12.68" height="2.78" fill="#4e7dc0"/>
<rect x="74.30" y="486.45" width="12.68" height="2.78" fill="#fb9f61"/>
<rect x="86.98" y="486.45" width="12.68" height="2.78" fill="#fff5b6"/>
<rect x="99.66" y="486.45" width="12.68" height="2.78" fill="#fee293"/>
<rect x="112.33" y="486.45" width="12.68" height="2.78" fill="#dbeff5"/>
<rect x="125.01" y="486.45" width="12.68" height="2.78" fill="#dbeff5"/>
<rect x="137.69" y="486.45" width="12.68" height="2.78" fill="#fff5b6"/>
<rect x="150.37" y="486.45" width="12.68" height="2.78" fill="#4e7dc0"/>
<rect x="163.04" y="486.45" width="12.68" height="2.78" fill="#4e7dc0"/>
<rect x="175.72" y="486.45" width="12.68" height="2.78" fill="#4e7dc0"/>
<rect x="74.30" y="489.23" width="12.68" height="2.78" fill="#fb9f61"/>
<rect x="86.98" y="489.23" width="12.68" height="2.78" fill="#fff5b6"/>
<rect x="99.66" y="489.23" width="12.68" height="2.78" fill="#fee293"/>
<rect x="112.33" y="489.23" width="12.68" height="2.78" fill="#dbeff5"/>
<rect x="125.01" y="489.23" width="12.68" height="2.78" fill="#dbeff5"/>
<rect x="137.69" y="489.23" width="12.68" height="2.78" fill="#f4f9dc"/>
<rect x="150.37" y="489.23" width="12.68" height="2.78" fill="#76a5d4"/>
<rect x="163.04" y="489.23" width="12.68" height="2.78" fill="#4e7dc0"/>
<rect x="175.72" y="489.23" width="12.68" height="2.78" fill="#4e7dc0"/>
<rect x="74.30" y="492.01" width="12.68" height="2.78" fill="#fb9f61"/>
<rect x="86.98" y="492.01" width="12.68" height="2.78" fill="#fff5b6"/>
<rect x="99.66" y="492.01" width="12.68" height="2.78" fill="#fff5b6"/>
<rect x="112.33" y="492.01" width="12.68" height="2.78" fill="#dbeff5"/>
<rect x="125.01" y="492.01" width="12.68" height="2.78" fill="#dbeff5"/>
<rect x="137.69" y="492.01" width="12.68" height="2.78" fill="#f4f9dc"/>
<rect x="150.37" y="492.01" width="12.68" height="2.78" fill="#4e7dc0"/>
<rect x="163.04" y="492.01" width="12.68" height="2.78" fill="#4e7dc0"/>
<rect x="175.72" y="492.01" width="12.68" height="2.78" fill="#4e7dc0"/>
<rect x="74.30" y="494.78" width="12.68" height="2.78" fill="#fdc477"/>
<rect x="86.98" y="494.78" width="12.68" height="2.78" fill="#fff5b6"/>
<rect x="99.66" y="494.78" width="12.68" height="2.78" fill="#fee293"/>
<rect x="112.33" y="494.78" width="12.68" height="2.78" fill="#dbeff5"/>
<rect x="125.01" y="494.78" width="12.68" height="2.78" fill="#dbeff5"/>
<rect x="137.69" y="494.78" width="12.68" height="2.78" fill="#fff5b6"/>
<rect x="150.37" y="494.78" width="12.68" height="2.78" fill="#4e7dc0"/>
<rect x="163.04" y="494.78" width="12.68" height="2.78" fill="#4e7dc0"/>
<rect x="175.72" y="494.78" width="12.68" height="2.78" fill="#4e7dc0"/>
<rect x="74.30" y="497.56" width="12.68" height="2.78" fill="#fdc477"/>
<rect x="86.98" y="497.56" width="12.68" height="2.78" fill="#fee293"/>
<rect x="99.66" y="497.56" width="12.68" height="2.78" fill="#fee293"/>
<rect x="112.33" y="497.56" width="12.68" height="2.78" fill="#dbeff5"/>
<rect x="125.01" y="497.56" width="12.68" height="2.78" fill="#dbeff5"/>
<rect x="137.69" y="497.56" width="12.68" height="2.78" fill="#f4f9dc"/>
<rect x="150.37" y="497.56" width="12.68" height="2.78" fill="#4e7dc0"/>
<rect x="163.04" y="497.56" width="12.68" height="2.78" fill="#4e7dc0"/>
<rect x="175.72" y="497.56" width="12.68" height="2.78" fill="#4e7dc0"/>
<rect x="74.30" y="500.34" width="12.68" height="2.78" fill="#fdc477"/>
<rect x="86.98" y="500.34" width="12.68" height="2.78" fill="#fee293"/>
<rect x="99.66" y="500.34" width="12.68" height="2.78" fill="#fee293"/>
<rect x="112.33" y="500.34" width="12.68" height="2.78" fill="#abcee6"/>
<rect x="125.01" y="500.34" width="12.68" height="2.78" fill="#dbeff5"/>
<rect x="137.69" y="500.34" width="12.68" height="2.78" fill="#f4f9dc"/>
<rect x="150.37" y="500.34" width="12.68" height="2.78" fill="#4e7dc0"/>
<rect x="163.04" y="500.34" width="12.68" height="2.78" fill="#4e7dc0"/>
<rect x="175.72" y="500.34" width="12.68" height="2.78" fill="#76a5d4"/>
<rect x="74.30" y="503.12" width="12.68" height="2.78" fill="#fb9f61"/>
<rect x="86.98" y="503.12" width="12.68" height="2.78" fill="#fee293"/>
<rect x="99.66" y="503.12" width="12.68" height="2.78" fill="#fee293"/>
<rect x="112.33" y="503.12" width="12.68" height="2.78" fill="#abcee6"/>
<rect x="125.01" y="503.12" width="12.68" height="2.78" fill="#dbeff5"/>
<rect x="137.69" y="503.12" width="12.68" height="2.78" fill="#f4f9dc"/>
<rect x="150.37" y="503.12" width="12.68" height="2.78" fill="#4e7dc0"/>
<rect x="163.04" y="503.12" width="12.68" height="2.78" fill="#4e7dc0"/>
<rect x="175.72" y="503.12" width="12.68" height="2.78" fill="#4e7dc0"/>
<rect x="74.30" y="505.89" width="12.68" height="2.78" fill="#fdc477"/>
<rect x="86.98" y="505.89" width="12.68" height="2.78" fill="#fee293"/>
<rect x="99.66" y="505.89" width="12.68" height="2.78" fill="#fee293"/>
<rect x="112.33" y="505.89" width="12.68" height="2.78" fill="#dbeff5"/>
<rect x="125.01" y="505.89" width="12.68" height="2.78" fill="#dbeff5"/>
<rect x="137.69" y="505.89" width="12.68" height="2.78" fill="#f4f9dc"/>
<rect x="150.37" y="505.89" width="12.68" height="2.78" fill="#4e7dc0"/>
<rect x="163.04" y="505.89" width="12.68" height="2.78" fill="#4e7dc0"/>
<rect x="175.72" y="505.89" width="12.68" height="2.78" fill="#4e7dc0"/>
<rect x="74.30" y="508.67" width="12.68" height="2.78" fill="#fb9f61"/>
<rect x="86.98" y="508.67" width="12.68" height="2.78" fill="#fee293"/>
<rect x="99.66" y="508.67" width="12.68" height="2.78" fill="#fee293"/>
<rect x="112.33" y="508.67" width="12.68" height="2.78" fill="#abcee6"/>
<rect x="125.01" y="508.67" width="12.68" height="2.78" fill="#dbeff5"/>
<rect x="137.69" y="508.67" width="12.68" height="2.78" fill="#f4f9dc"/>
<rect x="150.37" y="508.67" width="12.68" height="2.78" fill="#76a5d4"/>
<rect x="163.04" y="508.67" width="12.68" height="2.78" fill="#4e7dc0"/>
<rect x="175.72" y="508.67" width="12.68" height="2.78" fill="#4e7dc0"/>
<rect x="74.30" y="511.45" width="12.68" height="2.78" fill="#fdc477"/>
<rect x="86.98" y="511.45" width="12.68" height="2.78" fill="#fee293"/>
<rect x="99.66" y="511.45" width="12.68" height="2.78" fill="#fee293"/>
<rect x="112.33" y="511.45" width="12.68" height="2.78" fill="#dbeff5"/>
<rect x="125.01" y="511.45" width="12.68" height="2.78" fill="#dbeff5"/>
<rect x="137.69" y="511.45" width="12.68" height="2.78" fill="#f4f9dc"/>
<rect x="150.37" y="511.45" width="12.68" height="2.78" fill="#4e7dc0"/>
<rect x="163.04" y="511.45" width="12.68" height="2.78" fill="#4e7dc0"/>
<rect x="175.72" y="511.45" width="12.68" height="2.78" fill="#4e7dc0"/>
<rect x="74.30" y="514.22" width="12.68" height="2.78" fill="#fdc477"/>
<rect x="86.98" y="514.22" width="12.68" height="2.78" fill="#fee293"/>
<rect x="99.66" y="514.22" width="12.68" height="2.78" fill="#fee293"/>
<rect x="112.33" y="514.22" width="12.68" height="2.78" fill="#dbeff5"/>
<rect x="125.01" y="514.22" width="12.68" height="2.78" fill="#dbeff5"/>
<rect x="137.69" y="514.22" width="12.68" height="2.78" fill="#f4f9dc"/>
<rect x="150.37" y="514.22" width="12.68" height="2.78" fill="#4e7dc0"/>
<rect x="163.04" y="514.22" width="12.68" height="2.78" fill="#4e7dc0"/>
<rect x="175.72" y="514.22" width="12.68" height="2.78" fill="#4e7dc0"/>
<path d="M74.30 239.30H188.40M74.30 242.08H188.40M74.30 244.85H188.40M74.30 247.63H188.40M74.30 250.41H188.40M74.30 253.19H188.40M74.30 255.96H188.40M74.30 258.74H188.40M74.30 261.52H188.40M74.30 264.29H188.40M74.30 267.07H188.40M74.30 269.85H188.40M74.30 272.62H188.40M74.30 275.40H188.40M74.30 278.18H188.40M74.30 280.95H188.40M74.30 283.73H188.40M74.30 286.51H188.40M74.30 289.29H188.40M74.30 292.06H188.40M74.30 294.84H188.40M74.30 297.62H188.40M74.30 300.39H188.40M74.30 303.17H188.40M74.30 305.95H188.40M74.30 308.73H188.40M74.30 311.50H188.40M74.30 314.28H188.40M74.30 317.06H188.40M74.30 319.83H188.40M74.30 322.61H188.40M74.30 325.39H188.40M74.30 328.16H188.40M74.30 330.94H188.40M74.30 333.72H188.40M74.30 336.50H188.40M74.30 339.27H188.40M74.30 342.05H188.40M74.30 344.83H188.40M74.30 347.60H188.40M74.30 350.38H188.40M74.30 353.16H188.40M74.30 355.93H188.40M74.30 358.71H188.40M74.30 361.49H188.40M74.30 364.26H188.40M74.30 367.04H188.40M74.30 369.82H188.40M74.30 372.60H188.40M74.30 375.37H188.40M74.30 378.15H188.40M74.30 380.93H188.40M74.30 383.70H188.40M74.30 386.48H188.40M74.30 389.26H188.40M74.30 392.03H188.40M74.30 394.81H188.40M74.30 397.59H188.40M74.30 400.37H188.40M74.30 403.14H188.40M74.30 405.92H188.40M74.30 408.70H188.40M74.30 411.47H188.40M74.30 414.25H188.40M74.30 417.03H188.40M74.30 419.80H188.40M74.30 422.58H188.40M74.30 425.36H188.40M74.30 428.14H188.40M74.30 430.91H188.40M74.30 433.69H188.40M74.30 436.47H188.40M74.30 439.24H188.40M74.30 442.02H188.40M74.30 444.80H188.40M74.30 447.57H188.40M74.30 450.35H188.40M74.30 453.13H188.40M74.30 455.91H188.40M74.30 458.68H188.40M74.30 461.46H188.40M74.30 464.24H188.40M74.30 467.01H188.40M74.30 469.79H188.40M74.30 472.57H188.40M74.30 475.35H188.40M74.30 478.12H188.40M74.30 480.90H188.40M74.30 483.68H188.40M74.30 486.45H188.40M74.30 489.23H188.40M74.30 492.01H188.40M74.30 494.78H188.40M74.30 497.56H188.40M74.30 500.34H188.40M74.30 503.12H188.40M74.30 505.89H188.40M74.30 508.67H188.40M74.30 511.45H188.40M74.30 514.22H188.40M74.30 517.00H188.40M74.30 239.30V517.00M86.98 239.30V517.00M99.66 239.30V517.00M112.33 239.30V517.00M125.01 239.30V517.00M137.69 239.30V517.00M150.37 239.30V517.00M163.04 239.30V517.00M175.72 239.30V517.00M188.40 239.30V517.00" stroke="#999" stroke-width="0.3" stroke-opacity="0.85" fill="none"/>
<path d="M63.30 265.54H52.20V397.21H56.10M69.00 242.77H63.30V288.30H66.60M74.00 240.69H69.00V244.85H70.59M74.00 243.47H70.59V246.24H74.00M69.00 263.43H66.60V313.17H67.60M70.49 258.39H69.00V268.46H74.00M70.65 252.49H70.49V264.29H70.94M74.00 249.02H70.65V255.96H70.81M72.14 253.19H70.81V258.74H71.48M74.00 251.80H72.14V254.57H74.00M74.00 257.35H71.48V260.13H74.00M74.00 262.90H70.94V265.68H74.00M68.36 295.58H67.60V330.77H67.87M68.75 282.86H68.36V308.29H68.64M70.72 276.44H68.75V289.29H69.04M71.05 273.32H70.72V279.57H74.00M74.00 271.24H71.05V275.40H71.95M74.00 274.01H71.95V276.79H74.00M70.46 285.81H69.04V292.76H69.34M70.78 283.73H70.46V287.90H74.00M74.00 282.34H70.78V285.12H74.00M74.00 290.67H69.34V294.84H71.29M74.00 293.45H71.29V296.23H74.00M70.11 301.09H68.64V315.49H69.89M74.00 299.01H70.11V303.17H71.95M74.00 301.78H71.95V304.56H74.00M70.20 312.54H69.89V318.44H74.00M70.51 309.42H70.20V315.67H74.00M74.00 307.34H70.51V311.50H71.95M74.00 310.11H71.95V312.89H74.00M70.76 322.61H67.87V338.92H68.71M74.00 321.22H70.76V324.00H74.00M70.76 331.98H68.71V345.87H69.00M71.29 328.16H70.76V335.80H71.09M74.00 326.78H71.29V329.55H74.00M72.66 333.72H71.09V337.88H74.00M74.00 332.33H72.66V335.11H74.00M71.01 342.05H69.00V349.69H69.29M74.00 340.66H71.01V343.44H74.00M74.00 346.21H69.29V353.16H70.59M70.91 350.38H70.59V355.93H72.66M74.00 348.99H70.91V351.77H74.00M74.00 354.55H72.66V357.32H74.00M65.30 364.26H56.10V430.15H63.20M74.00 360.10H65.30V368.43H67.99M70.99 364.26H67.99V372.60H69.14M74.00 362.88H70.99V365.65H74.00M70.16 369.82H69.14V375.37H70.30M74.00 368.43H70.16V371.21H74.00M74.00 373.98H70.30V376.76H74.00M65.00 393.75H63.20V466.56H66.20M68.65 382.49H65.00V405.01H65.36M74.00 379.54H68.65V385.44H69.48M74.00 382.32H69.48V388.56H70.50M72.39 386.48H70.50V390.65H74.00M74.00 385.09H72.39V387.87H74.00M74.00 393.42H65.36V416.59H66.48M69.37 405.92H66.48V427.27H66.81M70.01 400.37H69.37V411.47H70.34M70.74 397.59H70.01V403.14H70.40M74.00 396.20H70.74V398.98H74.00M74.00 401.75H70.40V404.53H74.00M70.74 408.70H70.34V414.25H71.53M74.00 407.31H70.74V410.09H74.00M74.00 412.86H71.53V415.64H74.00M67.55 419.80H66.81V434.73H67.63M74.00 418.42H67.55V421.19H74.00M69.30 429.18H67.63V440.29H67.98M70.32 426.05H69.30V432.30H74.00M74.00 423.97H70.32V428.14H72.39M74.00 426.75H72.39V429.52H74.00M74.00 435.08H67.98V445.49H69.24M69.61 442.02H69.24V448.96H74.00M70.00 439.24H69.61V444.80H71.53M74.00 437.86H70.00V440.63H74.00M74.00 443.41H71.53V446.19H74.00M68.20 454.17H66.20V478.95H67.69M74.00 451.74H68.20V456.60H70.39M74.00 454.52H70.39V458.68H72.70M74.00 457.29H72.70V460.07H74.00M70.50 469.44H67.69V488.45H69.37M71.07 466.32H70.50V472.57H72.70M71.58 464.24H71.07V468.40H74.00M74.00 462.85H71.58V465.63H74.00M74.00 471.18H72.70V473.96H74.00M71.00 478.12H69.37V498.78H69.66M74.00 476.73H71.00V479.51H74.00M70.65 490.79H69.66V506.76H69.96M70.97 488.19H70.65V493.40H74.00M71.38 485.76H70.97V490.62H74.00M72.70 483.68H71.38V487.84H74.00M74.00 482.29H72.70V485.06H74.00M70.25 501.38H69.96V512.14H70.32M71.00 497.56H70.25V505.20H70.56M74.00 496.17H71.00V498.95H74.00M70.87 503.12H70.56V507.28H74.00M74.00 501.73H70.87V504.50H74.00M74.00 510.06H70.32V514.22H72.70M74.00 512.83H72.70V515.61H74.00" fill="none" stroke="#555" stroke-width="0.32"/>
<g font-family="Liberation Sans, Arial, sans-serif" font-size="2.6" fill="#444">
<text x="189.8" y="241.59">CA12</text>
<text x="189.8" y="244.37">PTPN21</text>
<text x="189.8" y="247.14">ADM</text>
<text x="189.8" y="249.92">SCGB1A1L1</text>
<text x="189.8" y="252.70">NEU3B</text>
<text x="189.8" y="255.47">SGLA2</text>
<text x="189.8" y="258.25">WFDC1</text>
<text x="189.8" y="261.03">STEAP4</text>
<text x="189.8" y="263.80">SLPI</text>
<text x="189.8" y="266.58">APP-like</text>
<text x="189.8" y="269.36">ACE</text>
<text x="189.8" y="272.14">LOC101789521</text>
<text x="189.8" y="274.91">PDE4</text>
<text x="189.8" y="277.69">LOC101788493</text>
<text x="189.8" y="280.47">BEST3</text>
<text x="189.8" y="283.24">SCNN1A|LOC101791362</text>
<text x="189.8" y="286.02">ACAP3</text>
<text x="189.8" y="288.80">SLC39A5</text>
<text x="189.8" y="291.57">RSE2</text>
<text x="189.8" y="294.35">NPNEOL</text>
<text x="189.8" y="297.13">LOC101789407|LOC101788429</text>
<text x="189.8" y="299.91">SCNN1</text>
<text x="189.8" y="302.68">SCF184</text>
<text x="189.8" y="305.46">PDGF</text>
<text x="189.8" y="308.24">TMEM86</text>
<text x="189.8" y="311.01">BAG1</text>
<text x="189.8" y="313.79">SLFTOF</text>
<text x="189.8" y="316.57">ST6GAL</text>
<text x="189.8" y="319.34">ETNK</text>
<text x="189.8" y="322.12">NCF2L1</text>
<text x="189.8" y="324.90">LOC101789494|LOC101789571|LOC101791781|LOC101789506</text>
<text x="189.8" y="327.68">LOC101789496</text>
<text x="189.8" y="330.45">PSBPL</text>
<text x="189.8" y="333.23">ABLIM3</text>
<text x="189.8" y="336.01">LOC101789586</text>
<text x="189.8" y="338.78">ZNF376</text>
<text x="189.8" y="341.56">SOCS3</text>
<text x="189.8" y="344.34">LOC101789429</text>
<text x="189.8" y="347.11">LRRC36</text>
<text x="189.8" y="349.89">RSE1L1</text>
<text x="189.8" y="352.67">NTSR1B</text>
<text x="189.8" y="355.45">PRKFUL</text>
<text x="189.8" y="358.22">PDE4C</text>
<text x="189.8" y="361.00">NOXA</text>
<text x="189.8" y="363.78">NTRPTLE</text>
<text x="189.8" y="366.55">TUBB6</text>
<text x="189.8" y="369.33">DPYSL2</text>
<text x="189.8" y="372.11">MARCKSL1</text>
<text x="189.8" y="374.88">LOC101790843</text>
<text x="189.8" y="377.66">TWIST2</text>
<text x="189.8" y="380.44">LOC101789586</text>
<text x="189.8" y="383.22">DPYSL3</text>
<text x="189.8" y="385.99">LOC101789642</text>
<text x="189.8" y="388.77">CD9</text>
<text x="189.8" y="391.55">SFRP2</text>
<text x="189.8" y="394.32">EPHB6</text>
<text x="189.8" y="397.10">RBL1</text>
<text x="189.8" y="399.88">MDK</text>
<text x="189.8" y="402.65">LOC101787095</text>
<text x="189.8" y="405.43">RPRM</text>
<text x="189.8" y="408.21">KPNA6</text>
<text x="189.8" y="410.99">NOTO</text>
<text x="189.8" y="413.76">COL4A5|MBD2</text>
<text x="189.8" y="416.54">COL4A6</text>
<text x="189.8" y="419.32">CPN1</text>
<text x="189.8" y="422.09">KCNN3</text>
<text x="189.8" y="424.87">SOX4</text>
<text x="189.8" y="427.65">SEMA7A</text>
<text x="189.8" y="430.42">CLSP</text>
<text x="189.8" y="433.20">ACAN</text>
<text x="189.8" y="435.98">SMOX_ATN</text>
<text x="189.8" y="438.76">LOC101789777</text>
<text x="189.8" y="441.53">PODXL2</text>
<text x="189.8" y="444.31">HBEGF</text>
<text x="189.8" y="447.09">FGFR2</text>
<text x="189.8" y="449.86">PAX6</text>
<text x="189.8" y="452.64">EGLN3</text>
<text x="189.8" y="455.42">LOC101789488</text>
<text x="189.8" y="458.19">COL28A1</text>
<text x="189.8" y="460.97">CDH11</text>
<text x="189.8" y="463.75">LOC101788040|LOC101802187</text>
<text x="189.8" y="466.53">JAM2B</text>
<text x="189.8" y="469.30">ANKS1B</text>
<text x="189.8" y="472.08">SCN4</text>
<text x="189.8" y="474.86">SMAD6</text>
<text x="189.8" y="477.63">FN1</text>
<text x="189.8" y="480.41">RAD54AP1</text>
<text x="189.8" y="483.19">TGFB2</text>
<text x="189.8" y="485.96">PAPPA</text>
<text x="189.8" y="488.74">PLK1</text>
<text x="189.8" y="491.52">MCM5</text>
<text x="189.8" y="494.30">TUBB3</text>
<text x="189.8" y="497.07">RAD51AP1</text>
<text x="189.8" y="499.85">KNL1</text>
<text x="189.8" y="502.63">CDC7</text>
<text x="189.8" y="505.40">LOC101788085|LOC101789424</text>
<text x="189.8" y="508.18">E2F8</text>
<text x="189.8" y="510.96">MCM10</text>
<text x="189.8" y="513.73">DUSP1</text>
<text x="189.8" y="516.51">CHEK1</text>
</g>
<g font-family="Liberation Sans, Arial, sans-serif" font-size="2.6" fill="#555">
<text x="0" y="0" transform="translate(79.74 519.3) rotate(90)">E15_BM1</text>
<text x="0" y="0" transform="translate(92.42 519.3) rotate(90)">E15_BM2</text>
<text x="0" y="0" transform="translate(105.09 519.3) rotate(90)">E15_BM3</text>
<text x="0" y="0" transform="translate(117.77 519.3) rotate(90)">E21_BM1</text>
<text x="0" y="0" transform="translate(130.45 519.3) rotate(90)">E21_BM2</text>
<text x="0" y="0" transform="translate(143.13 519.3) rotate(90)">E21_BM3</text>
<text x="0" y="0" transform="translate(155.81 519.3) rotate(90)">E27_BM1</text>
<text x="0" y="0" transform="translate(168.48 519.3) rotate(90)">E27_BM2</text>
<text x="0" y="0" transform="translate(181.16 519.3) rotate(90)">E27_BM3</text>
</g>
<defs><linearGradient id="cb" x1="0" y1="1" x2="0" y2="0">
<stop offset="0.000" stop-color="#4575b4"/>
<stop offset="0.167" stop-color="#91bfdb"/>
<stop offset="0.333" stop-color="#e0f3f8"/>
<stop offset="0.500" stop-color="#ffffbf"/>
<stop offset="0.667" stop-color="#fee090"/>
<stop offset="0.833" stop-color="#fc8d59"/>
<stop offset="1.000" stop-color="#d73027"/>
</linearGradient></defs>
<rect x="266.1" y="239.2" width="4.2" height="69.4" fill="url(#cb)"/>
<g font-family="Liberation Sans, Arial, sans-serif" font-size="3.1" fill="#333" stroke="#333" stroke-width="0.1">
<text x="271.8" y="247.8">2</text>
<text x="271.8" y="256.8">1.5</text>
<text x="271.8" y="265.9">1</text>
<text x="271.8" y="275.3">0.5</text>
<text x="271.8" y="284.4">0</text>
<text x="271.8" y="293.6">-0.5</text>
<text x="271.8" y="303.0">-1</text>
</g>
<text x="29.4" y="244.4" font-family="Liberation Serif, Times New Roman, serif" font-size="19.3" fill="#000" stroke="#000" stroke-width="0.5">C</text>
<ellipse cx="426" cy="228" rx="70" ry="16.5" fill="#fcfcfc"/>
<rect x="354.30" y="313.71" width="19.3" height="37.79" fill="#e2737e"/>
<rect x="373.60" y="337.13" width="19.3" height="14.37" fill="#5e8bc6"/>
<rect x="402.30" y="258.73" width="19.3" height="92.77" fill="#e2737e"/>
<rect x="421.60" y="325.62" width="19.3" height="25.88" fill="#5e8bc6"/>
<rect x="450.60" y="312.39" width="19.3" height="39.11" fill="#e2737e"/>
<rect x="469.90" y="332.14" width="19.3" height="19.36" fill="#5e8bc6"/>
<g font-family="Liberation Sans, Arial, sans-serif" font-size="4.6" fill="#222" stroke="#222" stroke-width="0.1" text-anchor="middle">
<text x="363.95" y="314.11">1552</text>
<text x="383.25" y="337.53">590</text>
<text x="411.95" y="259.13">3810</text>
<text x="431.25" y="326.02">1063</text>
<text x="460.25" y="312.79">1606</text>
<text x="479.55" y="332.54">795</text>
</g>
<path d="M344.4 234.5V356.9H498.8" fill="none" stroke="#8a8a8a" stroke-width="0.7"/>
<g font-family="Liberation Sans, Arial, sans-serif" font-size="4.3" fill="#222" stroke="#222" stroke-width="0.22" text-anchor="end">
<line x1="343" x2="344.4" y1="351.50" y2="351.50" stroke="#666" stroke-width="0.4"/>
<text x="342.4" y="353.00">0</text>
<line x1="343" x2="344.4" y1="327.15" y2="327.15" stroke="#666" stroke-width="0.4"/>
<text x="342.4" y="328.65">1000</text>
<line x1="343" x2="344.4" y1="302.80" y2="302.80" stroke="#666" stroke-width="0.4"/>
<text x="342.4" y="304.30">2000</text>
<line x1="343" x2="344.4" y1="278.45" y2="278.45" stroke="#666" stroke-width="0.4"/>
<text x="342.4" y="279.95">3000</text>
<line x1="343" x2="344.4" y1="254.10" y2="254.10" stroke="#666" stroke-width="0.4"/>
<text x="342.4" y="255.60">4000</text>
</g>
<text x="0" y="0" font-family="Liberation Sans, Arial, sans-serif" font-size="5.2" fill="#111" stroke="#111" stroke-width="0.12" text-anchor="middle" transform="translate(331.5 296) rotate(-90)">Number of Genes</text>
<g font-family="Liberation Sans, Arial, sans-serif" font-size="4.4" fill="#222" stroke="#222" stroke-width="0.22" text-anchor="middle">
<line x1="373.60" x2="373.60" y1="356.9" y2="358.2" stroke="#666" stroke-width="0.4"/>
<text x="0" y="0" transform="translate(373.30 371.6) rotate(-30)">E15_BMVSE21_BM</text>
<line x1="421.60" x2="421.60" y1="356.9" y2="358.2" stroke="#666" stroke-width="0.4"/>
<text x="0" y="0" transform="translate(421.30 371.6) rotate(-30)">E15_BMVSE27_BM</text>
<line x1="469.90" x2="469.90" y1="356.9" y2="358.2" stroke="#666" stroke-width="0.4"/>
<text x="0" y="0" transform="translate(469.60 371.6) rotate(-30)">E21_BMVSE27_BM</text>
</g>
<rect x="504" y="292" width="5.2" height="4.6" fill="#e2737e"/>
<rect x="504" y="297.4" width="5.2" height="4.6" fill="#5e8bc6"/>
<text x="510.8" y="295.9" font-family="Liberation Sans, Arial, sans-serif" font-size="4.5" fill="#222">up</text>
<text x="510.8" y="301.3" font-family="Liberation Sans, Arial, sans-serif" font-size="4.5" fill="#222">down</text>
<text x="311" y="234.9" font-family="Liberation Serif, Times New Roman, serif" font-size="19.3" fill="#000" stroke="#000" stroke-width="0.5">D</text>
<ellipse cx="339.6" cy="408" rx="7.5" ry="7.8" fill="#fafafa"/>
<g style="mix-blend-mode:normal">
<circle cx="396" cy="452.6" r="37" fill="#6191e9" fill-opacity="0.5"/>
<circle cx="432.8" cy="452.6" r="37" fill="#e97979" fill-opacity="0.5"/>
<circle cx="414.7" cy="485.4" r="37.6" fill="#97cd2d" fill-opacity="0.5"/>
</g>
<g font-family="Liberation Serif, Times New Roman, serif" font-size="5.3" fill="#1a1a1a" text-anchor="middle">
<text x="379.5" y="444.7">368</text>
<text x="414.3" y="436.4">1059</text>
<text x="449.3" y="444.7">1957</text>
<text x="414.3" y="464.9">564</text>
<text x="388.5" y="480.2">151</text>
<text x="439.8" y="480.2">1291</text>
<text x="414.3" y="505.0">395</text>
</g>
<g font-family="Liberation Serif, Times New Roman, serif" font-size="4.95" fill="#222" text-anchor="middle">
<text x="371.8" y="413.8">E15_BM vs E21_BM</text>
<text x="457" y="413.8">E15_BM vs E27_BM</text>
<text x="414.4" y="527.8">E21_BM vs E27_BM</text>
</g>
<text x="312.7" y="427.8" font-family="Liberation Serif, Times New Roman, serif" font-size="19.3" fill="#000" stroke="#000" stroke-width="0.5">E</text>
</svg>
</body></html>
